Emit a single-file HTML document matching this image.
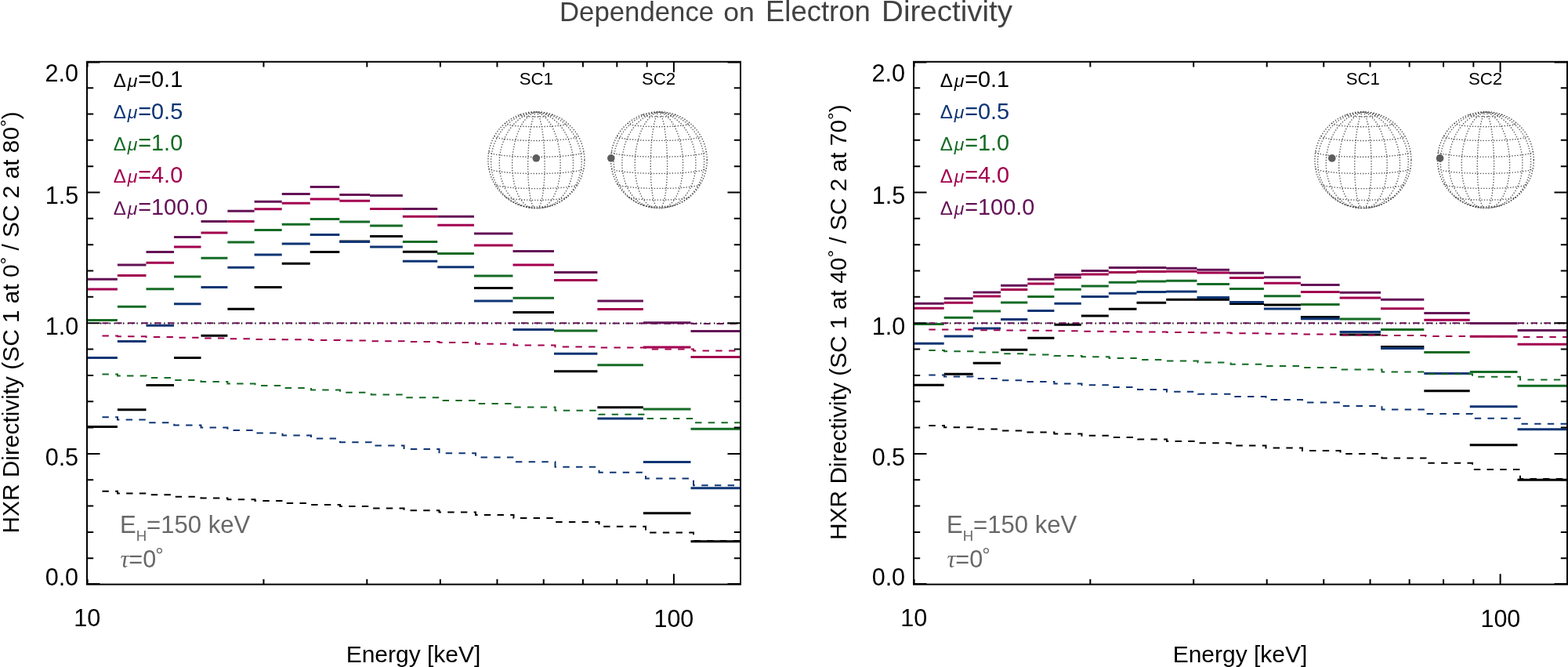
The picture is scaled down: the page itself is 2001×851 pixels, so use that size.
<!DOCTYPE html>
<html><head><meta charset="utf-8"><title>Dependence on Electron Directivity</title>
<style>
html,body{margin:0;padding:0;background:#fff;}
body{width:2001px;height:851px;overflow:hidden;}
svg{display:block;}
text{font-family:'Liberation Sans', Arial, sans-serif;}
.gr{fill:#686868;}
.title{fill:#414141;}
</style></head>
<body>
<svg width="2001" height="851" viewBox="0 0 2001 851">
<rect width="2001" height="851" fill="#fff"/>
<path d="M128 412.5H945" stroke="#000" stroke-width="2" stroke-dasharray="1.4 4.4" fill="none"/>
<path d="M111 544.5H149.9M149.9 522.7H186.5M186.5 491.6H222M222 456.5H256.5M256.5 428.3H290.4M290.4 394.2H324.6M324.6 366.4H359.7M359.7 336.2H395.7M395.7 321.4H433.3M433.3 308H472.1M472.1 301.4H513.9M513.9 321.3H558.3M558.3 323.4H605M605 367.5H654.5M654.5 398.4H707M707 473.7H762.4M762.4 519.8H820.9M820.9 654.7H881.5M881.5 690.7H945" stroke="#000000" stroke-width="3" fill="none"/>
<path d="M111 456.4H149.9M149.9 435.4H186.5M186.5 415.3H222M222 387.7H256.5M256.5 366.4H290.4M290.4 341.2H324.6M324.6 324.9H359.7M359.7 311.1H395.7M395.7 299.5H433.3M433.3 308.4H472.1M472.1 315.1H513.9M513.9 333.2H558.3M558.3 340.7H605M605 383.9H654.5M654.5 420.4H707M707 451.2H762.4M762.4 534.1H820.9M820.9 589.6H881.5M881.5 622.8H945" stroke="#0e3574" stroke-width="3" fill="none"/>
<path d="M111 408.5H149.9M149.9 391.3H186.5M186.5 368.7H222M222 353.1H256.5M256.5 329.2H290.4M290.4 308.9H324.6M324.6 293.5H359.7M359.7 286.3H395.7M395.7 279.4H433.3M433.3 283.1H472.1M472.1 288.1H513.9M513.9 308.6H558.3M558.3 323.4H605M605 352.1H654.5M654.5 380.3H707M707 421.9H762.4M762.4 465.7H820.9M820.9 521.9H881.5M881.5 547.2H945" stroke="#156b25" stroke-width="3" fill="none"/>
<path d="M111 368.9H149.9M149.9 351.5H186.5M186.5 335.2H222M222 315H256.5M256.5 296.9H290.4M290.4 282.5H324.6M324.6 266.7H359.7M359.7 259.2H395.7M395.7 254.1H433.3M433.3 256.2H472.1M472.1 266.6H513.9M513.9 276.2H558.3M558.3 287.2H605M605 313.1H654.5M654.5 337.9H707M707 357.5H762.4M762.4 394.5H820.9M820.9 443H881.5M881.5 455.6H945" stroke="#a2004f" stroke-width="3" fill="none"/>
<path d="M111 356.3H149.9M149.9 337.9H186.5M186.5 321.4H222M222 302.4H256.5M256.5 282.5H290.4M290.4 269.3H324.6M324.6 257.2H359.7M359.7 247.6H395.7M395.7 238.6H433.3M433.3 248.6H472.1M472.1 249.4H513.9M513.9 266.4H558.3M558.3 276.2H605M605 298H654.5M654.5 320.5H707M707 347.4H762.4M762.4 383.9H820.9M820.9 411.7H881.5M881.5 422.6H945" stroke="#641256" stroke-width="3" fill="none"/>
<path d="M130.45 626.8H150V629.5H186.5V631.3H222.3V633.7H256.5V635.6H290.4V637.2H325.5V639H360.5V642H397V644H434V646.1H473.7V648.5H515.6V651.2H560.5V653.6H607V657.1H655.5V661.1H708.5V665.9H764.5V671.8H824V679.6H885V690H945" stroke="#000000" stroke-width="2" stroke-dasharray="8.4 8.3" fill="none"/>
<path d="M130.45 532.3H150V535.5H186.5V539.3H222.3V542.5H256.5V545.5H290.4V548.9H325.5V552.4H360.5V555.6H397V559.5H434V564.2H473.7V568.4H515.6V573.1H560.5V578.3H607V583.6H655.5V589.3H708.5V595.7H764.5V602.8H824V610.5H885V619.2H945" stroke="#0e3574" stroke-width="2" stroke-dasharray="8.4 8.3" fill="none"/>
<path d="M130.45 477.6H150V479.4H186.5V482H222.3V485H256.5V486.9H290.4V489.6H325.5V492.1H360.5V494.9H397V497.4H434V500.8H473.7V503.6H515.6V507.2H560.5V511H607V515H655.5V519.5H708.5V523.8H764.5V528.8H824V533.9H885V539.3H945" stroke="#156b25" stroke-width="2" stroke-dasharray="8.4 8.3" fill="none"/>
<path d="M130.45 428.6H150V429.3H186.5V430H222.3V430.8H256.5V431.4H290.4V432.3H325.5V432.9H360.5V433.3H397V434H434V434.6H473.7V435.2H515.6V436H560.5V437H607V438.7H655.5V440.5H708.5V442.5H764.5V443.6H824V445.4H885V447.4H945" stroke="#a2004f" stroke-width="2" stroke-dasharray="8.4 8.3" fill="none"/>
<path d="M130.45 412.2H150V412.2H186.5V412.2H222.3V412.2H256.5V412.2H290.4V412.2H325.5V412.2H360.5V412.2H397V412.2H434V412.2H473.7V412.2H515.6V412.2H560.5V412.2H607V412.2H655.5V412.2H708.5V412.2H764.5V412.4H824V412.8H885V413H945" stroke="#641256" stroke-width="2" stroke-dasharray="8.4 8.3" fill="none"/>
<rect x="111" y="78.8" width="834" height="666.8" fill="none" stroke="#000" stroke-width="2"/>
<path d="M111 745h16.5M945 745h-16.5M111 712.26h8.2M945 712.26h-8.2M111 678.92h8.2M945 678.92h-8.2M111 645.58h8.2M945 645.58h-8.2M111 612.24h8.2M945 612.24h-8.2M111 578.9h16.5M945 578.9h-16.5M111 545.56h8.2M945 545.56h-8.2M111 512.22h8.2M945 512.22h-8.2M111 478.88h8.2M945 478.88h-8.2M111 445.54h8.2M945 445.54h-8.2M111 412.2h16.5M945 412.2h-16.5M111 378.86h8.2M945 378.86h-8.2M111 345.52h8.2M945 345.52h-8.2M111 312.18h8.2M945 312.18h-8.2M111 278.84h8.2M945 278.84h-8.2M111 245.5h16.5M945 245.5h-16.5M111 212.16h8.2M945 212.16h-8.2M111 178.82h8.2M945 178.82h-8.2M111 145.48h8.2M945 145.48h-8.2M111 112.14h8.2M945 112.14h-8.2M111 79.4h16.5M945 79.4h-16.5M111.6 745.6v-6.6M111.6 78.8v6.6M336.44 745.6v-6.6M336.44 78.8v6.6M468.32 745.6v-6.6M468.32 78.8v6.6M561.88 745.6v-6.6M561.88 78.8v6.6M634.46 745.6v-6.6M634.46 78.8v6.6M693.76 745.6v-6.6M693.76 78.8v6.6M743.89 745.6v-6.6M743.89 78.8v6.6M787.32 745.6v-6.6M787.32 78.8v6.6M825.63 745.6v-6.6M825.63 78.8v6.6M859.9 745.6v-13.4M859.9 78.8v13.4" stroke="#000" stroke-width="2" fill="none"/>
<path d="M1183 412.5H2000" stroke="#000" stroke-width="2" stroke-dasharray="1.4 4.4" fill="none"/>
<path d="M1166 491.3H1204.7M1204.7 477.3H1241.7M1241.7 463.3H1277.1M1277.1 446.3H1311.3M1311.3 431.3H1345.4M1345.4 414.2H1379.8M1379.8 403.1H1414.8M1414.8 394.3H1450.5M1450.5 386.3H1488.2M1488.2 382.2H1527.5M1527.5 382.2H1569M1569 387.6H1612.9M1612.9 389.1H1659.9M1659.9 404.5H1709.6M1709.6 426.9H1762M1762 442.4H1817.3M1817.3 498.8H1875.7M1875.7 567.7H1936.5M1936.5 612.2H2000" stroke="#000000" stroke-width="3" fill="none"/>
<path d="M1166 438.2H1204.7M1204.7 429H1241.7M1241.7 419H1277.1M1277.1 407.6H1311.3M1311.3 396.6H1345.4M1345.4 387.3H1379.8M1379.8 378.4H1414.8M1414.8 374.3H1450.5M1450.5 372.6H1488.2M1488.2 372H1527.5M1527.5 379.4H1569M1569 385.6H1612.9M1612.9 394.1H1659.9M1659.9 406.8H1709.6M1709.6 423.6H1762M1762 444.5H1817.3M1817.3 476.5H1875.7M1875.7 518.7H1936.5M1936.5 547.8H2000" stroke="#0e3574" stroke-width="3" fill="none"/>
<path d="M1166 413.6H1204.7M1204.7 405.3H1241.7M1241.7 396.9H1277.1M1277.1 386.1H1311.3M1311.3 378.4H1345.4M1345.4 369.2H1379.8M1379.8 364.9H1414.8M1414.8 360.3H1450.5M1450.5 359H1488.2M1488.2 358.3H1527.5M1527.5 362.4H1569M1569 368.4H1612.9M1612.9 377.7H1659.9M1659.9 388.4H1709.6M1709.6 407H1762M1762 420.6H1817.3M1817.3 449.5H1875.7M1875.7 474.6H1936.5M1936.5 492.3H2000" stroke="#156b25" stroke-width="3" fill="none"/>
<path d="M1166 393.3H1204.7M1204.7 386.3H1241.7M1241.7 378H1277.1M1277.1 369.6H1311.3M1311.3 362H1345.4M1345.4 354H1379.8M1379.8 349.9H1414.8M1414.8 347.5H1450.5M1450.5 346.6H1488.2M1488.2 346.3H1527.5M1527.5 348H1569M1569 354.4H1612.9M1612.9 361.2H1659.9M1659.9 372.5H1709.6M1709.6 380H1762M1762 393.8H1817.3M1817.3 408.3H1875.7M1875.7 429.2H1936.5M1936.5 439.3H2000" stroke="#a2004f" stroke-width="3" fill="none"/>
<path d="M1166 387.2H1204.7M1204.7 380.7H1241.7M1241.7 373.1H1277.1M1277.1 364.2H1311.3M1311.3 356.2H1345.4M1345.4 350.4H1379.8M1379.8 345.5H1414.8M1414.8 341.4H1450.5M1450.5 341.4H1488.2M1488.2 342.2H1527.5M1527.5 344.3H1569M1569 348.3H1612.9M1612.9 353.7H1659.9M1659.9 363.4H1709.6M1709.6 373.2H1762M1762 382.3H1817.3M1817.3 399.4H1875.7M1875.7 412.6H1936.5M1936.5 421.4H2000" stroke="#641256" stroke-width="3" fill="none"/>
<path d="M1185.35 543.1H1205V545.2H1241.5V547.5H1277.3V549.6H1311.5V551.4H1345.4V553.6H1380.5V555.8H1415.5V558.1H1452V560.6H1489V562.9H1528.7V565.3H1570.6V568.6H1615.5V571.4H1662V575.1H1710.5V579H1763.5V584.4H1819.5V590.8H1879V599.1H1940V611H2000" stroke="#000000" stroke-width="2" stroke-dasharray="8.4 8.3" fill="none"/>
<path d="M1185.35 478.6H1205V480.6H1241.5V483H1277.3V485.2H1311.5V487.1H1345.4V489.6H1380.5V491.3H1415.5V494.1H1452V497H1489V499.8H1528.7V502.7H1570.6V506.1H1615.5V509.9H1662V513.6H1710.5V517.9H1763.5V522.6H1819.5V528H1879V533.7H1940V540.8H2000" stroke="#0e3574" stroke-width="2" stroke-dasharray="8.4 8.3" fill="none"/>
<path d="M1185.35 446.9H1205V448.3H1241.5V449.6H1277.3V451.2H1311.5V452.5H1345.4V453.9H1380.5V455.2H1415.5V457.1H1452V459H1489V460.5H1528.7V462.4H1570.6V464.7H1615.5V467H1662V469.1H1710.5V471.6H1763.5V474.6H1819.5V477.3H1879V480.8H1940V484.4H2000" stroke="#156b25" stroke-width="2" stroke-dasharray="8.4 8.3" fill="none"/>
<path d="M1185.35 420.5H1205V420.6H1241.5V421.3H1277.3V421.6H1311.5V421.8H1345.4V422.3H1380.5V422.8H1415.5V423.3H1452V423.6H1489V424H1528.7V424.6H1570.6V425.3H1615.5V425.8H1662V426.6H1710.5V427.4H1763.5V428H1819.5V428.9H1879V429.3H1940V430.1H2000" stroke="#a2004f" stroke-width="2" stroke-dasharray="8.4 8.3" fill="none"/>
<path d="M1185.35 412.2H1205V412.2H1241.5V412.2H1277.3V412.2H1311.5V412.2H1345.4V412.2H1380.5V412.2H1415.5V412.2H1452V412.2H1489V412.2H1528.7V412.2H1570.6V412.2H1615.5V412.2H1662V412.2H1710.5V412.2H1763.5V412.2H1819.5V412.2H1879V412.2H1940V412.2H2000" stroke="#641256" stroke-width="2" stroke-dasharray="8.4 8.3" fill="none"/>
<rect x="1166" y="78.8" width="834" height="666.8" fill="none" stroke="#000" stroke-width="2"/>
<path d="M1166 745h16.5M2000 745h-16.5M1166 712.26h8.2M2000 712.26h-8.2M1166 678.92h8.2M2000 678.92h-8.2M1166 645.58h8.2M2000 645.58h-8.2M1166 612.24h8.2M2000 612.24h-8.2M1166 578.9h16.5M2000 578.9h-16.5M1166 545.56h8.2M2000 545.56h-8.2M1166 512.22h8.2M2000 512.22h-8.2M1166 478.88h8.2M2000 478.88h-8.2M1166 445.54h8.2M2000 445.54h-8.2M1166 412.2h16.5M2000 412.2h-16.5M1166 378.86h8.2M2000 378.86h-8.2M1166 345.52h8.2M2000 345.52h-8.2M1166 312.18h8.2M2000 312.18h-8.2M1166 278.84h8.2M2000 278.84h-8.2M1166 245.5h16.5M2000 245.5h-16.5M1166 212.16h8.2M2000 212.16h-8.2M1166 178.82h8.2M2000 178.82h-8.2M1166 145.48h8.2M2000 145.48h-8.2M1166 112.14h8.2M2000 112.14h-8.2M1166 79.4h16.5M2000 79.4h-16.5M1166.6 745.6v-6.6M1166.6 78.8v6.6M1391.35 745.6v-6.6M1391.35 78.8v6.6M1523.17 745.6v-6.6M1523.17 78.8v6.6M1616.7 745.6v-6.6M1616.7 78.8v6.6M1689.25 745.6v-6.6M1689.25 78.8v6.6M1748.52 745.6v-6.6M1748.52 78.8v6.6M1798.64 745.6v-6.6M1798.64 78.8v6.6M1842.05 745.6v-6.6M1842.05 78.8v6.6M1880.35 745.6v-6.6M1880.35 78.8v6.6M1914.6 745.6v-13.4M1914.6 78.8v13.4" stroke="#000" stroke-width="2" fill="none"/>
<path d="M664.4 262.3L664.6 262.3L664.9 262.4L665.2 262.5L665.5 262.6L665.8 262.6L666.2 262.7L666.6 262.8L667.0 262.8L667.4 262.9L667.8 263.0L668.3 263.0L668.8 263.1L669.3 263.2L669.8 263.2L670.3 263.3L670.9 263.3L671.5 263.4L672.0 263.4L672.6 263.5L673.3 263.5L673.9 263.6L674.5 263.6L675.2 263.6L675.8 263.7L676.5 263.7L677.2 263.7L677.9 263.8L678.6 263.8L679.3 263.8L680.0 263.8L680.7 263.8L681.5 263.9L682.2 263.9L682.9 263.9L683.7 263.9L684.4 263.9L685.1 263.9L685.9 263.9L686.6 263.9L687.3 263.9L688.1 263.8L688.8 263.8L689.5 263.8L690.2 263.8L690.9 263.8L691.6 263.7L692.3 263.7L693.0 263.7L693.6 263.6L694.3 263.6L694.9 263.6L695.5 263.5L696.2 263.5L696.8 263.4L697.3 263.4L697.9 263.3L698.5 263.3L699.0 263.2L699.5 263.2L700.0 263.1L700.5 263.0L701.0 263.0L701.4 262.9L701.8 262.8L702.2 262.8L702.6 262.7L703.0 262.6L703.3 262.6L703.6 262.5L703.9 262.4L704.2 262.3L704.4 262.3M645.3 251.5L645.5 251.7L645.7 251.8L646.0 252.0L646.4 252.1L646.8 252.3L647.3 252.4L647.7 252.6L648.3 252.7L648.9 252.8L649.5 253.0L650.2 253.1L650.9 253.3L651.6 253.4L652.4 253.5L653.2 253.6L654.1 253.8L655.0 253.9L656.0 254.0L656.9 254.1L657.9 254.2L659.0 254.3L660.1 254.4L661.2 254.5L662.3 254.6L663.5 254.7L664.6 254.7L665.8 254.8L667.1 254.9L668.3 254.9L669.6 255.0L670.9 255.1L672.2 255.1L673.5 255.2L674.8 255.2L676.2 255.2L677.5 255.3L678.9 255.3L680.3 255.3L681.6 255.3L683.0 255.3L684.4 255.3L685.8 255.3L687.2 255.3L688.5 255.3L689.9 255.3L691.3 255.3L692.6 255.2L694.0 255.2L695.3 255.2L696.6 255.1L697.9 255.1L699.2 255.0L700.5 254.9L701.7 254.9L703.0 254.8L704.2 254.7L705.3 254.7L706.5 254.6L707.6 254.5L708.7 254.4L709.8 254.3L710.9 254.2L711.9 254.1L712.8 254.0L713.8 253.9L714.7 253.8L715.6 253.6L716.4 253.5L717.2 253.4L717.9 253.3L718.6 253.1L719.3 253.0L719.9 252.8L720.5 252.7L721.1 252.6L721.5 252.4L722.0 252.3L722.4 252.1L722.8 252.0L723.1 251.8L723.3 251.7L723.5 251.5M631.3 235.1L631.4 235.3L631.7 235.5L631.9 235.7L632.3 235.9L632.7 236.1L633.2 236.3L633.7 236.5L634.4 236.7L635.0 236.9L635.7 237.1L636.5 237.3L637.4 237.4L638.3 237.6L639.2 237.8L640.2 238.0L641.3 238.1L642.4 238.3L643.6 238.5L644.8 238.6L646.1 238.8L647.4 238.9L648.8 239.1L650.2 239.2L651.6 239.3L653.1 239.5L654.6 239.6L656.2 239.7L657.8 239.8L659.4 239.9L661.1 240.0L662.7 240.1L664.4 240.2L666.2 240.2L667.9 240.3L669.7 240.4L671.5 240.4L673.3 240.5L675.2 240.5L677.0 240.5L678.8 240.6L680.7 240.6L682.5 240.6L684.4 240.6L686.3 240.6L688.1 240.6L690.0 240.6L691.8 240.5L693.6 240.5L695.5 240.5L697.3 240.4L699.1 240.4L700.9 240.3L702.6 240.2L704.4 240.2L706.1 240.1L707.7 240.0L709.4 239.9L711.0 239.8L712.6 239.7L714.2 239.6L715.7 239.5L717.2 239.3L718.6 239.2L720.0 239.1L721.4 238.9L722.7 238.8L724.0 238.6L725.2 238.5L726.4 238.3L727.5 238.1L728.6 238.0L729.6 237.8L730.5 237.6L731.4 237.4L732.3 237.3L733.1 237.1L733.8 236.9L734.4 236.7L735.1 236.5L735.6 236.3L736.1 236.1L736.5 235.9L736.9 235.7L737.1 235.5L737.4 235.3L737.5 235.1M623.9 214.9L624.0 215.2L624.2 215.4L624.4 215.7L624.8 215.9L625.2 216.1L625.6 216.3L626.2 216.6L626.8 216.8L627.5 217.0L628.2 217.2L629.1 217.5L630.0 217.7L630.9 217.9L631.9 218.1L633.0 218.3L634.2 218.5L635.4 218.7L636.7 218.9L638.0 219.1L639.4 219.2L640.8 219.4L642.3 219.6L643.9 219.7L645.5 219.9L647.1 220.0L648.8 220.2L650.5 220.3L652.3 220.4L654.1 220.6L656.0 220.7L657.8 220.8L659.8 220.9L661.7 221.0L663.7 221.1L665.7 221.1L667.7 221.2L669.7 221.3L671.8 221.3L673.9 221.4L676.0 221.4L678.1 221.4L680.2 221.4L682.3 221.5L684.4 221.5L686.5 221.5L688.6 221.4L690.7 221.4L692.8 221.4L694.9 221.4L697.0 221.3L699.1 221.3L701.1 221.2L703.1 221.1L705.1 221.1L707.1 221.0L709.0 220.9L711.0 220.8L712.8 220.7L714.7 220.6L716.5 220.4L718.3 220.3L720.0 220.2L721.7 220.0L723.3 219.9L724.9 219.7L726.5 219.6L728.0 219.4L729.4 219.2L730.8 219.1L732.1 218.9L733.4 218.7L734.6 218.5L735.8 218.3L736.9 218.1L737.9 217.9L738.8 217.7L739.7 217.5L740.6 217.2L741.3 217.0L742.0 216.8L742.6 216.6L743.2 216.3L743.6 216.1L744.0 215.9L744.4 215.7L744.6 215.4L744.8 215.2L744.9 214.9M623.8 193.5L623.9 193.7L624.0 194.0L624.2 194.2L624.4 194.4L624.8 194.7L625.2 194.9L625.6 195.1L626.2 195.3L626.8 195.6L627.5 195.8L628.2 196.0L629.1 196.2L630.0 196.4L630.9 196.7L631.9 196.9L633.0 197.1L634.2 197.3L635.4 197.5L636.7 197.6L638.0 197.8L639.4 198.0L640.8 198.2L642.3 198.3L643.9 198.5L645.5 198.7L647.1 198.8L648.8 198.9L650.5 199.1L652.3 199.2L654.1 199.3L656.0 199.4L657.8 199.6L659.8 199.7L661.7 199.7L663.7 199.8L665.7 199.9L667.7 200.0L669.7 200.0L671.8 200.1L673.9 200.1L676.0 200.2L678.1 200.2L680.2 200.2L682.3 200.2L684.4 200.2L686.5 200.2L688.6 200.2L690.7 200.2L692.8 200.2L694.9 200.1L697.0 200.1L699.1 200.0L701.1 200.0L703.1 199.9L705.1 199.8L707.1 199.7L709.0 199.7L711.0 199.6L712.8 199.4L714.7 199.3L716.5 199.2L718.3 199.1L720.0 198.9L721.7 198.8L723.3 198.7L724.9 198.5L726.5 198.3L728.0 198.2L729.4 198.0L730.8 197.8L732.1 197.6L733.4 197.5L734.6 197.3L735.8 197.1L736.9 196.9L737.9 196.7L738.8 196.4L739.7 196.2L740.6 196.0L741.3 195.8L742.0 195.6L742.6 195.3L743.2 195.1L743.6 194.9L744.0 194.7L744.4 194.4L744.6 194.2L744.8 194.0L744.9 193.7L745.0 193.5M631.2 173.3L631.1 173.5L631.2 173.7L631.3 174.0L631.4 174.2L631.7 174.4L631.9 174.6L632.3 174.8L632.7 175.0L633.2 175.2L633.7 175.4L634.4 175.6L635.0 175.8L635.7 176.0L636.5 176.1L637.4 176.3L638.3 176.5L639.2 176.7L640.2 176.9L641.3 177.0L642.4 177.2L643.6 177.4L644.8 177.5L646.1 177.7L647.4 177.8L648.8 178.0L650.2 178.1L651.6 178.2L653.1 178.3L654.6 178.5L656.2 178.6L657.8 178.7L659.4 178.8L661.1 178.9L662.7 179.0L664.4 179.0L666.2 179.1L667.9 179.2L669.7 179.2L671.5 179.3L673.3 179.3L675.2 179.4L677.0 179.4L678.8 179.4L680.7 179.5L682.5 179.5L684.4 179.5L686.3 179.5L688.1 179.5L690.0 179.4L691.8 179.4L693.6 179.4L695.5 179.3L697.3 179.3L699.1 179.2L700.9 179.2L702.6 179.1L704.4 179.0L706.1 179.0L707.7 178.9L709.4 178.8L711.0 178.7L712.6 178.6L714.2 178.5L715.7 178.3L717.2 178.2L718.6 178.1L720.0 178.0L721.4 177.8L722.7 177.7L724.0 177.5L725.2 177.4L726.4 177.2L727.5 177.0L728.6 176.9L729.6 176.7L730.5 176.5L731.4 176.3L732.3 176.1L733.1 176.0L733.8 175.8L734.4 175.6L735.1 175.4L735.6 175.2L736.1 175.0L736.5 174.8L736.9 174.6L737.1 174.4L737.4 174.2L737.5 174.0L737.6 173.7L737.7 173.5L737.6 173.3M645.1 156.8L645.0 157.0L644.9 157.1L644.9 157.3L644.9 157.4L645.0 157.6L645.1 157.7L645.3 157.9L645.5 158.0L645.7 158.2L646.0 158.3L646.4 158.5L646.8 158.6L647.3 158.8L647.7 158.9L648.3 159.1L648.9 159.2L649.5 159.4L650.2 159.5L650.9 159.6L651.6 159.7L652.4 159.9L653.2 160.0L654.1 160.1L655.0 160.2L656.0 160.3L656.9 160.5L657.9 160.6L659.0 160.7L660.1 160.8L661.2 160.8L662.3 160.9L663.5 161.0L664.6 161.1L665.8 161.2L667.1 161.2L668.3 161.3L669.6 161.4L670.9 161.4L672.2 161.5L673.5 161.5L674.8 161.6L676.2 161.6L677.5 161.6L678.9 161.6L680.3 161.7L681.6 161.7L683.0 161.7L684.4 161.7L685.8 161.7L687.2 161.7L688.5 161.7L689.9 161.6L691.3 161.6L692.6 161.6L694.0 161.6L695.3 161.5L696.6 161.5L697.9 161.4L699.2 161.4L700.5 161.3L701.7 161.2L703.0 161.2L704.2 161.1L705.3 161.0L706.5 160.9L707.6 160.8L708.7 160.8L709.8 160.7L710.9 160.6L711.9 160.5L712.8 160.3L713.8 160.2L714.7 160.1L715.6 160.0L716.4 159.9L717.2 159.7L717.9 159.6L718.6 159.5L719.3 159.4L719.9 159.2L720.5 159.1L721.1 158.9L721.5 158.8L722.0 158.6L722.4 158.5L722.8 158.3L723.1 158.2L723.3 158.0L723.5 157.9L723.7 157.7L723.8 157.6L723.9 157.4L723.9 157.3L723.9 157.1L723.8 157.0L723.7 156.8M664.2 146.0L664.0 146.1L663.8 146.2L663.7 146.3L663.6 146.3L663.5 146.4L663.4 146.5L663.4 146.6L663.4 146.7L663.4 146.8L663.4 146.8L663.5 146.9L663.6 147.0L663.7 147.1L663.8 147.2L664.0 147.2L664.2 147.3L664.4 147.4L664.6 147.5L664.9 147.5L665.2 147.6L665.5 147.7L665.8 147.8L666.2 147.8L666.6 147.9L667.0 148.0L667.4 148.0L667.8 148.1L668.3 148.2L668.8 148.2L669.3 148.3L669.8 148.4L670.3 148.4L670.9 148.5L671.5 148.5L672.0 148.6L672.6 148.6L673.3 148.7L673.9 148.7L674.5 148.7L675.2 148.8L675.8 148.8L676.5 148.8L677.2 148.9L677.9 148.9L678.6 148.9L679.3 148.9L680.0 149.0L680.7 149.0L681.5 149.0L682.2 149.0L682.9 149.0L683.7 149.0L684.4 149.0L685.1 149.0L685.9 149.0L686.6 149.0L687.3 149.0L688.1 149.0L688.8 149.0L689.5 148.9L690.2 148.9L690.9 148.9L691.6 148.9L692.3 148.8L693.0 148.8L693.6 148.8L694.3 148.7L694.9 148.7L695.5 148.7L696.2 148.6L696.8 148.6L697.3 148.5L697.9 148.5L698.5 148.4L699.0 148.4L699.5 148.3L700.0 148.2L700.5 148.2L701.0 148.1L701.4 148.0L701.8 148.0L702.2 147.9L702.6 147.8L703.0 147.8L703.3 147.7L703.6 147.6L703.9 147.5L704.2 147.5L704.4 147.4L704.6 147.3L704.8 147.2L705.0 147.2L705.1 147.1L705.2 147.0L705.3 146.9L705.4 146.8L705.4 146.8L705.4 146.7L705.4 146.6L705.4 146.5L705.3 146.4L705.2 146.3L705.1 146.3L705.0 146.2L704.8 146.1L704.6 146.0M664.6 262.3L662.8 261.6L660.9 260.9L659.1 260.1L657.3 259.2L655.5 258.2L653.8 257.2L652.1 256.1L650.4 254.9L648.8 253.7L647.3 252.4L645.7 251.1L644.3 249.7L642.8 248.2L641.5 246.7L640.1 245.2L638.9 243.6L637.6 241.9L636.5 240.2L635.4 238.5L634.4 236.7L633.4 234.9L632.5 233.0L631.6 231.1L630.8 229.2L630.1 227.2L629.4 225.2L628.8 223.2L628.3 221.2L627.9 219.1L627.5 217.0L627.2 214.9L626.9 212.8L626.7 210.7L626.6 208.6L626.6 206.4L626.6 204.3L626.7 202.2L626.9 200.0L627.2 197.9L627.5 195.8L627.9 193.7L628.3 191.6L628.8 189.5L629.4 187.4L630.1 185.4L630.8 183.4L631.6 181.4L632.5 179.4L633.4 177.5L634.4 175.6L635.4 173.7L636.5 171.9L637.6 170.1L638.9 168.3L640.1 166.6L641.5 164.9L642.8 163.3L644.3 161.8L645.7 160.3L647.3 158.8L648.8 157.4L650.4 156.0L652.1 154.7L653.8 153.5L655.5 152.3L657.3 151.2L659.1 150.2L660.9 149.2L662.8 148.3L664.6 147.5L666.5 146.7L668.5 146.0L670.4 145.4L672.4 144.8L674.4 144.3L676.4 143.9L678.4 143.6L680.4 143.3L682.4 143.1L684.4 143.0M676.2 265.1L674.6 264.8L673.0 264.5L671.4 264.1L669.8 263.6L668.3 263.0L666.8 262.4L665.2 261.7L663.7 261.0L662.3 260.1L660.8 259.2L659.4 258.3L658.1 257.2L656.7 256.1L655.4 255.0L654.1 253.8L652.9 252.5L651.7 251.1L650.5 249.7L649.4 248.3L648.3 246.8L647.3 245.2L646.3 243.6L645.3 241.9L644.4 240.2L643.6 238.5L642.8 236.7L642.1 234.9L641.4 233.0L640.7 231.1L640.1 229.1L639.6 227.2L639.1 225.2L638.7 223.2L638.3 221.1L638.0 219.1L637.7 217.0L637.5 214.9L637.4 212.8L637.3 210.6L637.3 208.5L637.3 206.4L637.4 204.2L637.5 202.1L637.7 200.0L638.0 197.8L638.3 195.7L638.7 193.6L639.1 191.5L639.6 189.4L640.1 187.3L640.7 185.3L641.4 183.3L642.1 181.3L642.8 179.3L643.6 177.4L644.4 175.5L645.3 173.6L646.3 171.7L647.3 169.9L648.3 168.2L649.4 166.5L650.5 164.8L651.7 163.2L652.9 161.6L654.1 160.1L655.4 158.7L656.7 157.2L658.1 155.9L659.4 154.6L660.8 153.4L662.3 152.2L663.7 151.1L665.2 150.1L666.8 149.1L668.3 148.2L669.8 147.3L671.4 146.6L673.0 145.9L674.6 145.2L676.2 144.7L677.8 144.2L679.5 143.8L681.1 143.4L682.8 143.2L684.4 143.0M680.1 265.4L679.1 265.3L678.0 265.1L677.0 264.8L675.9 264.5L674.9 264.1L673.9 263.6L672.9 263.0L671.9 262.3L670.9 261.6L670.0 260.9L669.0 260.0L668.1 259.1L667.2 258.1L666.3 257.0L665.5 255.9L664.6 254.7L663.8 253.5L663.0 252.2L662.3 250.8L661.5 249.4L660.8 247.9L660.2 246.4L659.5 244.8L658.9 243.2L658.3 241.5L657.8 239.8L657.2 238.0L656.8 236.2L656.3 234.4L655.9 232.5L655.5 230.6L655.2 228.6L654.8 226.7L654.6 224.6L654.3 222.6L654.1 220.6L653.9 218.5L653.8 216.4L653.7 214.3L653.7 212.2L653.6 210.0L653.7 207.9L653.7 205.8L653.8 203.6L653.9 201.5L654.1 199.3L654.3 197.2L654.6 195.1L654.8 193.0L655.2 190.9L655.5 188.8L655.9 186.7L656.3 184.7L656.8 182.6L657.2 180.6L657.8 178.7L658.3 176.7L658.9 174.8L659.5 173.0L660.2 171.2L660.8 169.4L661.5 167.6L662.3 165.9L663.0 164.3L663.8 162.7L664.6 161.1L665.5 159.6L666.3 158.1L667.2 156.8L668.1 155.4L669.0 154.1L670.0 152.9L670.9 151.8L671.9 150.7L672.9 149.7L673.9 148.7L674.9 147.8L675.9 147.0L677.0 146.2L678.0 145.6L679.1 144.9L680.1 144.4L681.2 143.9L682.3 143.5L683.3 143.2L684.4 143.0M682.9 265.6L682.5 265.5L682.2 265.3L681.8 265.0L681.5 264.7L681.1 264.3L680.7 263.8L680.4 263.3L680.1 262.7L679.7 262.0L679.4 261.2L679.1 260.4L678.7 259.5L678.4 258.5L678.1 257.5L677.8 256.4L677.5 255.3L677.3 254.0L677.0 252.8L676.7 251.4L676.5 250.0L676.2 248.6L676.0 247.0L675.8 245.5L675.5 243.9L675.3 242.2L675.2 240.5L675.0 238.8L674.8 237.0L674.6 235.1L674.5 233.3L674.4 231.3L674.2 229.4L674.1 227.4L674.0 225.4L674.0 223.4L673.9 221.4L673.8 219.3L673.8 217.2L673.7 215.1L673.7 213.0L673.7 210.9L673.7 208.7L673.7 206.6L673.8 204.4L673.8 202.3L673.9 200.1L674.0 198.0L674.0 195.9L674.1 193.7L674.2 191.6L674.4 189.5L674.5 187.5L674.6 185.4L674.8 183.4L675.0 181.4L675.2 179.4L675.3 177.4L675.5 175.5L675.8 173.6L676.0 171.8L676.2 170.0L676.5 168.2L676.7 166.5L677.0 164.8L677.3 163.2L677.5 161.6L677.8 160.1L678.1 158.6L678.4 157.2L678.7 155.8L679.1 154.5L679.4 153.3L679.7 152.1L680.1 151.0L680.4 150.0L680.7 149.0L681.1 148.1L681.5 147.2L681.8 146.4L682.2 145.7L682.5 145.1L682.9 144.5L683.3 144.0L683.7 143.6L684.0 143.3L684.4 143.0M685.9 265.6L686.3 265.5L686.6 265.3L687.0 265.0L687.3 264.7L687.7 264.3L688.1 263.8L688.4 263.3L688.7 262.7L689.1 262.0L689.4 261.2L689.7 260.4L690.1 259.5L690.4 258.5L690.7 257.5L691.0 256.4L691.3 255.3L691.5 254.0L691.8 252.8L692.1 251.4L692.3 250.0L692.6 248.6L692.8 247.0L693.0 245.5L693.3 243.9L693.5 242.2L693.6 240.5L693.8 238.8L694.0 237.0L694.2 235.1L694.3 233.3L694.4 231.3L694.6 229.4L694.7 227.4L694.8 225.4L694.8 223.4L694.9 221.4L695.0 219.3L695.0 217.2L695.1 215.1L695.1 213.0L695.1 210.9L695.1 208.7L695.1 206.6L695.0 204.4L695.0 202.3L694.9 200.1L694.8 198.0L694.8 195.9L694.7 193.7L694.6 191.6L694.4 189.5L694.3 187.5L694.2 185.4L694.0 183.4L693.8 181.4L693.6 179.4L693.5 177.4L693.3 175.5L693.0 173.6L692.8 171.8L692.6 170.0L692.3 168.2L692.1 166.5L691.8 164.8L691.5 163.2L691.3 161.6L691.0 160.1L690.7 158.6L690.4 157.2L690.1 155.8L689.7 154.5L689.4 153.3L689.1 152.1L688.7 151.0L688.4 150.0L688.1 149.0L687.7 148.1L687.3 147.2L687.0 146.4L686.6 145.7L686.3 145.1L685.9 144.5L685.5 144.0L685.1 143.6L684.8 143.3L684.4 143.0M688.7 265.4L689.7 265.3L690.8 265.1L691.8 264.8L692.9 264.5L693.9 264.1L694.9 263.6L695.9 263.0L696.9 262.3L697.9 261.6L698.8 260.9L699.8 260.0L700.7 259.1L701.6 258.1L702.5 257.0L703.3 255.9L704.2 254.7L705.0 253.5L705.8 252.2L706.5 250.8L707.3 249.4L708.0 247.9L708.6 246.4L709.3 244.8L709.9 243.2L710.5 241.5L711.0 239.8L711.6 238.0L712.0 236.2L712.5 234.4L712.9 232.5L713.3 230.6L713.6 228.6L714.0 226.7L714.2 224.6L714.5 222.6L714.7 220.6L714.9 218.5L715.0 216.4L715.1 214.3L715.1 212.2L715.1 210.0L715.1 207.9L715.1 205.8L715.0 203.6L714.9 201.5L714.7 199.3L714.5 197.2L714.2 195.1L714.0 193.0L713.6 190.9L713.3 188.8L712.9 186.7L712.5 184.7L712.0 182.6L711.6 180.6L711.0 178.7L710.5 176.7L709.9 174.8L709.3 173.0L708.6 171.2L708.0 169.4L707.3 167.6L706.5 165.9L705.8 164.3L705.0 162.7L704.2 161.1L703.3 159.6L702.5 158.1L701.6 156.8L700.7 155.4L699.8 154.1L698.8 152.9L697.9 151.8L696.9 150.7L695.9 149.7L694.9 148.7L693.9 147.8L692.9 147.0L691.8 146.2L690.8 145.6L689.7 144.9L688.7 144.4L687.6 143.9L686.5 143.5L685.5 143.2L684.4 143.0M692.6 265.1L694.2 264.8L695.8 264.5L697.4 264.1L699.0 263.6L700.5 263.0L702.0 262.4L703.6 261.7L705.1 261.0L706.5 260.1L708.0 259.2L709.4 258.3L710.7 257.2L712.1 256.1L713.4 255.0L714.7 253.8L715.9 252.5L717.1 251.1L718.3 249.7L719.4 248.3L720.5 246.8L721.5 245.2L722.5 243.6L723.5 241.9L724.4 240.2L725.2 238.5L726.0 236.7L726.7 234.9L727.4 233.0L728.1 231.1L728.7 229.1L729.2 227.2L729.7 225.2L730.1 223.2L730.5 221.1L730.8 219.1L731.1 217.0L731.3 214.9L731.4 212.8L731.5 210.6L731.5 208.5L731.5 206.4L731.4 204.2L731.3 202.1L731.1 200.0L730.8 197.8L730.5 195.7L730.1 193.6L729.7 191.5L729.2 189.4L728.7 187.3L728.1 185.3L727.4 183.3L726.7 181.3L726.0 179.3L725.2 177.4L724.4 175.5L723.5 173.6L722.5 171.7L721.5 169.9L720.5 168.2L719.4 166.5L718.3 164.8L717.1 163.2L715.9 161.6L714.7 160.1L713.4 158.7L712.1 157.2L710.7 155.9L709.4 154.6L708.0 153.4L706.5 152.2L705.1 151.1L703.6 150.1L702.0 149.1L700.5 148.2L699.0 147.3L697.4 146.6L695.8 145.9L694.2 145.2L692.6 144.7L691.0 144.2L689.3 143.8L687.7 143.4L686.0 143.2L684.4 143.0M704.2 262.3L706.0 261.6L707.9 260.9L709.7 260.1L711.5 259.2L713.3 258.2L715.0 257.2L716.7 256.1L718.4 254.9L720.0 253.7L721.5 252.4L723.1 251.1L724.5 249.7L726.0 248.2L727.3 246.7L728.7 245.2L729.9 243.6L731.2 241.9L732.3 240.2L733.4 238.5L734.4 236.7L735.4 234.9L736.3 233.0L737.2 231.1L738.0 229.2L738.7 227.2L739.4 225.2L740.0 223.2L740.5 221.2L740.9 219.1L741.3 217.0L741.6 214.9L741.9 212.8L742.1 210.7L742.2 208.6L742.2 206.4L742.2 204.3L742.1 202.2L741.9 200.0L741.6 197.9L741.3 195.8L740.9 193.7L740.5 191.6L740.0 189.5L739.4 187.4L738.7 185.4L738.0 183.4L737.2 181.4L736.3 179.4L735.4 177.5L734.4 175.6L733.4 173.7L732.3 171.9L731.2 170.1L729.9 168.3L728.7 166.6L727.3 164.9L726.0 163.3L724.5 161.8L723.1 160.3L721.5 158.8L720.0 157.4L718.4 156.0L716.7 154.7L715.0 153.5L713.3 152.3L711.5 151.2L709.7 150.2L707.9 149.2L706.0 148.3L704.2 147.5L702.3 146.7L700.3 146.0L698.4 145.4L696.4 144.8L694.4 144.3L692.4 143.9L690.4 143.6L688.4 143.3L686.4 143.1L684.4 143.0" stroke="#505050" stroke-width="1.35" stroke-dasharray="1.35 2.05" fill="none"/>
<circle cx="684.4" cy="204.1" r="61.5" stroke="#404040" stroke-width="1.35" stroke-dasharray="1.35 2.05" fill="none"/>
<circle cx="684.3" cy="201.8" r="4.8" fill="#5c5c5c"/>
<path d="M820.9 262.1L821.2 262.1L821.4 262.2L821.7 262.3L822.0 262.4L822.4 262.4L822.7 262.5L823.1 262.6L823.5 262.6L823.9 262.7L824.4 262.8L824.8 262.8L825.3 262.9L825.8 263.0L826.3 263.0L826.8 263.1L827.4 263.1L828.0 263.2L828.6 263.2L829.2 263.3L829.8 263.3L830.4 263.4L831.0 263.4L831.7 263.4L832.4 263.5L833.0 263.5L833.7 263.5L834.4 263.6L835.1 263.6L835.8 263.6L836.5 263.6L837.3 263.6L838.0 263.7L838.7 263.7L839.4 263.7L840.2 263.7L840.9 263.7L841.6 263.7L842.4 263.7L843.1 263.7L843.8 263.7L844.5 263.6L845.3 263.6L846.0 263.6L846.7 263.6L847.4 263.6L848.1 263.5L848.8 263.5L849.4 263.5L850.1 263.4L850.8 263.4L851.4 263.4L852.0 263.3L852.6 263.3L853.2 263.2L853.8 263.2L854.4 263.1L855.0 263.1L855.5 263.0L856.0 263.0L856.5 262.9L857.0 262.8L857.4 262.8L857.9 262.7L858.3 262.6L858.7 262.6L859.1 262.5L859.4 262.4L859.8 262.4L860.1 262.3L860.4 262.2L860.6 262.1L860.9 262.1M801.8 251.4L802.0 251.5L802.3 251.7L802.6 251.8L803.0 252.0L803.4 252.1L803.8 252.2L804.3 252.4L804.8 252.5L805.4 252.7L806.1 252.8L806.7 252.9L807.4 253.1L808.2 253.2L809.0 253.3L809.8 253.5L810.7 253.6L811.6 253.7L812.5 253.8L813.5 253.9L814.5 254.0L815.5 254.1L816.6 254.2L817.7 254.3L818.8 254.4L820.0 254.5L821.2 254.6L822.4 254.6L823.6 254.7L824.8 254.8L826.1 254.8L827.4 254.9L828.7 254.9L830.0 255.0L831.4 255.0L832.7 255.0L834.0 255.1L835.4 255.1L836.8 255.1L838.1 255.1L839.5 255.1L840.9 255.1L842.3 255.1L843.7 255.1L845.0 255.1L846.4 255.1L847.8 255.1L849.1 255.0L850.4 255.0L851.8 255.0L853.1 254.9L854.4 254.9L855.7 254.8L857.0 254.8L858.2 254.7L859.4 254.6L860.6 254.6L861.8 254.5L863.0 254.4L864.1 254.3L865.2 254.2L866.3 254.1L867.3 254.0L868.3 253.9L869.3 253.8L870.2 253.7L871.1 253.6L872.0 253.5L872.8 253.3L873.6 253.2L874.4 253.1L875.1 252.9L875.7 252.8L876.4 252.7L877.0 252.5L877.5 252.4L878.0 252.2L878.4 252.1L878.8 252.0L879.2 251.8L879.5 251.7L879.8 251.5L880.0 251.4M787.9 234.9L788.0 235.1L788.2 235.3L788.5 235.5L788.9 235.7L789.3 235.9L789.8 236.1L790.3 236.3L790.9 236.5L791.6 236.7L792.3 236.9L793.1 237.1L794.0 237.3L794.9 237.5L795.8 237.6L796.8 237.8L797.9 238.0L799.0 238.2L800.2 238.3L801.4 238.5L802.6 238.6L804.0 238.8L805.3 238.9L806.7 239.0L808.2 239.2L809.6 239.3L811.2 239.4L812.7 239.5L814.3 239.6L815.9 239.7L817.6 239.8L819.3 239.9L821.0 240.0L822.7 240.1L824.5 240.1L826.2 240.2L828.0 240.3L829.8 240.3L831.7 240.3L833.5 240.4L835.3 240.4L837.2 240.4L839.0 240.4L840.9 240.4L842.8 240.4L844.6 240.4L846.5 240.4L848.3 240.4L850.1 240.3L852.0 240.3L853.8 240.3L855.6 240.2L857.3 240.1L859.1 240.1L860.8 240.0L862.5 239.9L864.2 239.8L865.9 239.7L867.5 239.6L869.1 239.5L870.6 239.4L872.2 239.3L873.6 239.2L875.1 239.0L876.5 238.9L877.8 238.8L879.2 238.6L880.4 238.5L881.6 238.3L882.8 238.2L883.9 238.0L885.0 237.8L886.0 237.6L886.9 237.5L887.8 237.3L888.7 237.1L889.5 236.9L890.2 236.7L890.9 236.5L891.5 236.3L892.0 236.1L892.5 235.9L892.9 235.7L893.3 235.5L893.6 235.3L893.8 235.1L893.9 234.9M780.5 214.8L780.6 215.1L780.8 215.3L781.0 215.5L781.4 215.8L781.8 216.0L782.2 216.2L782.8 216.5L783.4 216.7L784.1 216.9L784.8 217.1L785.7 217.3L786.6 217.6L787.5 217.8L788.5 218.0L789.6 218.2L790.8 218.4L792.0 218.6L793.3 218.7L794.6 218.9L796.0 219.1L797.4 219.3L798.9 219.4L800.4 219.6L802.0 219.8L803.7 219.9L805.4 220.0L807.1 220.2L808.9 220.3L810.7 220.4L812.5 220.5L814.4 220.7L816.3 220.8L818.2 220.8L820.2 220.9L822.2 221.0L824.2 221.1L826.3 221.1L828.3 221.2L830.4 221.2L832.5 221.3L834.6 221.3L836.7 221.3L838.8 221.3L840.9 221.3L843.0 221.3L845.1 221.3L847.2 221.3L849.3 221.3L851.4 221.2L853.5 221.2L855.5 221.1L857.6 221.1L859.6 221.0L861.6 220.9L863.6 220.8L865.5 220.8L867.4 220.7L869.3 220.5L871.1 220.4L872.9 220.3L874.7 220.2L876.4 220.0L878.1 219.9L879.8 219.8L881.4 219.6L882.9 219.4L884.4 219.3L885.8 219.1L887.2 218.9L888.5 218.7L889.8 218.6L891.0 218.4L892.2 218.2L893.3 218.0L894.3 217.8L895.2 217.6L896.1 217.3L897.0 217.1L897.7 216.9L898.4 216.7L899.0 216.5L899.6 216.2L900.0 216.0L900.4 215.8L900.8 215.5L901.0 215.3L901.2 215.1L901.3 214.8M780.4 193.4L780.5 193.6L780.6 193.9L780.8 194.1L781.0 194.3L781.4 194.6L781.8 194.8L782.2 195.0L782.8 195.3L783.4 195.5L784.1 195.7L784.8 195.9L785.7 196.1L786.6 196.4L787.5 196.6L788.5 196.8L789.6 197.0L790.8 197.2L792.0 197.4L793.3 197.6L794.6 197.7L796.0 197.9L797.4 198.1L798.9 198.3L800.4 198.4L802.0 198.6L803.7 198.7L805.4 198.9L807.1 199.0L808.9 199.1L810.7 199.2L812.5 199.4L814.4 199.5L816.3 199.6L818.2 199.7L820.2 199.7L822.2 199.8L824.2 199.9L826.3 199.9L828.3 200.0L830.4 200.0L832.5 200.1L834.6 200.1L836.7 200.1L838.8 200.1L840.9 200.1L843.0 200.1L845.1 200.1L847.2 200.1L849.3 200.1L851.4 200.0L853.5 200.0L855.5 199.9L857.6 199.9L859.6 199.8L861.6 199.7L863.6 199.7L865.5 199.6L867.4 199.5L869.3 199.4L871.1 199.2L872.9 199.1L874.7 199.0L876.4 198.9L878.1 198.7L879.8 198.6L881.4 198.4L882.9 198.3L884.4 198.1L885.8 197.9L887.2 197.7L888.5 197.6L889.8 197.4L891.0 197.2L892.2 197.0L893.3 196.8L894.3 196.6L895.2 196.4L896.1 196.1L897.0 195.9L897.7 195.7L898.4 195.5L899.0 195.3L899.6 195.0L900.0 194.8L900.4 194.6L900.8 194.3L901.0 194.1L901.2 193.9L901.3 193.6L901.4 193.4M787.8 173.3L787.7 173.5L787.8 173.7L787.9 173.9L788.0 174.1L788.2 174.3L788.5 174.5L788.9 174.7L789.3 174.9L789.8 175.1L790.3 175.3L790.9 175.5L791.6 175.7L792.3 175.9L793.1 176.1L794.0 176.3L794.9 176.5L795.8 176.6L796.8 176.8L797.9 177.0L799.0 177.1L800.2 177.3L801.4 177.5L802.6 177.6L804.0 177.8L805.3 177.9L806.7 178.0L808.2 178.2L809.6 178.3L811.2 178.4L812.7 178.5L814.3 178.6L815.9 178.7L817.6 178.8L819.3 178.9L821.0 179.0L822.7 179.1L824.5 179.1L826.2 179.2L828.0 179.2L829.8 179.3L831.7 179.3L833.5 179.4L835.3 179.4L837.2 179.4L839.0 179.4L840.9 179.4L842.8 179.4L844.6 179.4L846.5 179.4L848.3 179.4L850.1 179.3L852.0 179.3L853.8 179.2L855.6 179.2L857.3 179.1L859.1 179.1L860.8 179.0L862.5 178.9L864.2 178.8L865.9 178.7L867.5 178.6L869.1 178.5L870.6 178.4L872.2 178.3L873.6 178.2L875.1 178.0L876.5 177.9L877.8 177.8L879.2 177.6L880.4 177.5L881.6 177.3L882.8 177.1L883.9 177.0L885.0 176.8L886.0 176.6L886.9 176.5L887.8 176.3L888.7 176.1L889.5 175.9L890.2 175.7L890.9 175.5L891.5 175.3L892.0 175.1L892.5 174.9L892.9 174.7L893.3 174.5L893.6 174.3L893.8 174.1L893.9 173.9L894.0 173.7L894.1 173.5L894.0 173.3M801.6 156.8L801.5 157.0L801.5 157.1L801.4 157.3L801.5 157.4L801.5 157.6L801.6 157.7L801.8 157.9L802.0 158.0L802.3 158.2L802.6 158.3L803.0 158.5L803.4 158.6L803.8 158.8L804.3 158.9L804.8 159.0L805.4 159.2L806.1 159.3L806.7 159.5L807.4 159.6L808.2 159.7L809.0 159.8L809.8 160.0L810.7 160.1L811.6 160.2L812.5 160.3L813.5 160.4L814.5 160.5L815.5 160.6L816.6 160.7L817.7 160.8L818.8 160.9L820.0 161.0L821.2 161.1L822.4 161.1L823.6 161.2L824.8 161.3L826.1 161.3L827.4 161.4L828.7 161.4L830.0 161.5L831.4 161.5L832.7 161.6L834.0 161.6L835.4 161.6L836.8 161.6L838.1 161.6L839.5 161.7L840.9 161.7L842.3 161.7L843.7 161.6L845.0 161.6L846.4 161.6L847.8 161.6L849.1 161.6L850.4 161.5L851.8 161.5L853.1 161.4L854.4 161.4L855.7 161.3L857.0 161.3L858.2 161.2L859.4 161.1L860.6 161.1L861.8 161.0L863.0 160.9L864.1 160.8L865.2 160.7L866.3 160.6L867.3 160.5L868.3 160.4L869.3 160.3L870.2 160.2L871.1 160.1L872.0 160.0L872.8 159.8L873.6 159.7L874.4 159.6L875.1 159.5L875.7 159.3L876.4 159.2L877.0 159.0L877.5 158.9L878.0 158.8L878.4 158.6L878.8 158.5L879.2 158.3L879.5 158.2L879.8 158.0L880.0 157.9L880.2 157.7L880.3 157.6L880.3 157.4L880.4 157.3L880.3 157.1L880.3 157.0L880.2 156.8M820.7 146.0L820.5 146.1L820.4 146.2L820.2 146.3L820.1 146.3L820.0 146.4L820.0 146.5L819.9 146.6L819.9 146.7L819.9 146.7L820.0 146.8L820.0 146.9L820.1 147.0L820.2 147.1L820.4 147.1L820.5 147.2L820.7 147.3L820.9 147.4L821.2 147.5L821.4 147.5L821.7 147.6L822.0 147.7L822.4 147.8L822.7 147.8L823.1 147.9L823.5 148.0L823.9 148.0L824.4 148.1L824.8 148.2L825.3 148.2L825.8 148.3L826.3 148.3L826.8 148.4L827.4 148.5L828.0 148.5L828.6 148.6L829.2 148.6L829.8 148.6L830.4 148.7L831.0 148.7L831.7 148.8L832.4 148.8L833.0 148.8L833.7 148.9L834.4 148.9L835.1 148.9L835.8 148.9L836.5 149.0L837.3 149.0L838.0 149.0L838.7 149.0L839.4 149.0L840.2 149.0L840.9 149.0L841.6 149.0L842.4 149.0L843.1 149.0L843.8 149.0L844.5 149.0L845.3 149.0L846.0 148.9L846.7 148.9L847.4 148.9L848.1 148.9L848.8 148.8L849.4 148.8L850.1 148.8L850.8 148.7L851.4 148.7L852.0 148.6L852.6 148.6L853.2 148.6L853.8 148.5L854.4 148.5L855.0 148.4L855.5 148.3L856.0 148.3L856.5 148.2L857.0 148.2L857.4 148.1L857.9 148.0L858.3 148.0L858.7 147.9L859.1 147.8L859.4 147.8L859.8 147.7L860.1 147.6L860.4 147.5L860.6 147.5L860.9 147.4L861.1 147.3L861.3 147.2L861.4 147.1L861.6 147.1L861.7 147.0L861.8 146.9L861.8 146.8L861.9 146.7L861.9 146.7L861.9 146.6L861.8 146.5L861.8 146.4L861.7 146.3L861.6 146.3L861.4 146.2L861.3 146.1L861.1 146.0M821.2 262.1L819.3 261.5L817.4 260.7L815.6 259.9L813.8 259.0L812.1 258.0L810.3 257.0L808.6 255.9L807.0 254.7L805.4 253.5L803.8 252.2L802.3 250.9L800.8 249.5L799.4 248.1L798.0 246.6L796.7 245.0L795.4 243.4L794.2 241.8L793.1 240.1L792.0 238.3L790.9 236.5L790.0 234.7L789.0 232.9L788.2 231.0L787.4 229.0L786.7 227.1L786.0 225.1L785.4 223.1L784.9 221.0L784.5 219.0L784.1 216.9L783.8 214.8L783.5 212.7L783.3 210.6L783.2 208.5L783.2 206.3L783.2 204.2L783.3 202.1L783.5 199.9L783.8 197.8L784.1 195.7L784.5 193.6L784.9 191.5L785.4 189.4L786.0 187.4L786.7 185.3L787.4 183.3L788.2 181.3L789.0 179.4L790.0 177.4L790.9 175.5L792.0 173.7L793.1 171.8L794.2 170.0L795.4 168.3L796.7 166.6L798.0 164.9L799.4 163.3L800.8 161.7L802.3 160.2L803.8 158.8L805.4 157.4L807.0 156.0L808.6 154.7L810.3 153.5L812.1 152.3L813.8 151.2L815.6 150.2L817.4 149.2L819.3 148.3L821.2 147.5L823.1 146.7L825.0 146.0L826.9 145.4L828.9 144.8L830.9 144.3L832.9 143.9L834.9 143.6L836.9 143.3L838.9 143.1L840.9 143.0M832.7 264.9L831.1 264.6L829.5 264.3L827.9 263.9L826.4 263.4L824.8 262.8L823.3 262.2L821.8 261.5L820.3 260.8L818.8 259.9L817.4 259.0L816.0 258.1L814.6 257.0L813.3 255.9L811.9 254.8L810.7 253.6L809.4 252.3L808.2 250.9L807.1 249.6L805.9 248.1L804.9 246.6L803.8 245.0L802.8 243.4L801.9 241.8L801.0 240.1L800.2 238.3L799.4 236.5L798.6 234.7L797.9 232.8L797.3 230.9L796.7 229.0L796.2 227.0L795.7 225.0L795.3 223.0L794.9 221.0L794.6 218.9L794.3 216.8L794.1 214.8L794.0 212.6L793.9 210.5L793.9 208.4L793.9 206.3L794.0 204.1L794.1 202.0L794.3 199.9L794.6 197.7L794.9 195.6L795.3 193.5L795.7 191.4L796.2 189.3L796.7 187.3L797.3 185.2L797.9 183.2L798.6 181.2L799.4 179.2L800.2 177.3L801.0 175.4L801.9 173.5L802.8 171.7L803.8 169.9L804.9 168.1L805.9 166.4L807.1 164.8L808.2 163.2L809.4 161.6L810.7 160.1L811.9 158.6L813.3 157.2L814.6 155.9L816.0 154.6L817.4 153.4L818.8 152.2L820.3 151.1L821.8 150.0L823.3 149.1L824.8 148.2L826.4 147.3L827.9 146.6L829.5 145.9L831.1 145.2L832.7 144.7L834.4 144.2L836.0 143.8L837.6 143.4L839.3 143.2L840.9 143.0M836.6 265.2L835.6 265.1L834.5 264.9L833.5 264.6L832.4 264.3L831.4 263.9L830.4 263.4L829.4 262.8L828.4 262.2L827.4 261.4L826.5 260.7L825.5 259.8L824.6 258.9L823.7 257.9L822.9 256.8L822.0 255.7L821.2 254.6L820.4 253.3L819.6 252.0L818.8 250.6L818.1 249.2L817.4 247.8L816.7 246.2L816.1 244.7L815.4 243.0L814.9 241.4L814.3 239.6L813.8 237.9L813.3 236.1L812.9 234.2L812.4 232.4L812.1 230.4L811.7 228.5L811.4 226.5L811.1 224.5L810.9 222.5L810.7 220.4L810.5 218.4L810.4 216.3L810.3 214.2L810.2 212.1L810.2 209.9L810.2 207.8L810.3 205.7L810.4 203.5L810.5 201.4L810.7 199.2L810.9 197.1L811.1 195.0L811.4 192.9L811.7 190.8L812.1 188.7L812.4 186.6L812.9 184.6L813.3 182.6L813.8 180.6L814.3 178.6L814.9 176.7L815.4 174.8L816.1 172.9L816.7 171.1L817.4 169.3L818.1 167.6L818.8 165.9L819.6 164.2L820.4 162.6L821.2 161.1L822.0 159.6L822.9 158.1L823.7 156.7L824.6 155.4L825.5 154.1L826.5 152.9L827.4 151.8L828.4 150.7L829.4 149.6L830.4 148.7L831.4 147.8L832.4 147.0L833.5 146.2L834.5 145.5L835.6 144.9L836.6 144.4L837.7 143.9L838.8 143.5L839.8 143.2L840.9 143.0M839.4 265.4L839.0 265.3L838.7 265.1L838.3 264.8L838.0 264.5L837.6 264.1L837.3 263.6L836.9 263.1L836.6 262.5L836.2 261.8L835.9 261.0L835.6 260.2L835.3 259.3L834.9 258.4L834.6 257.3L834.3 256.2L834.0 255.1L833.8 253.9L833.5 252.6L833.2 251.2L833.0 249.8L832.7 248.4L832.5 246.9L832.3 245.3L832.1 243.7L831.9 242.1L831.7 240.3L831.5 238.6L831.3 236.8L831.2 235.0L831.0 233.1L830.9 231.2L830.8 229.3L830.7 227.3L830.6 225.3L830.5 223.3L830.4 221.2L830.3 219.2L830.3 217.1L830.3 215.0L830.2 212.9L830.2 210.7L830.2 208.6L830.3 206.5L830.3 204.3L830.3 202.2L830.4 200.0L830.5 197.9L830.6 195.8L830.7 193.7L830.8 191.6L830.9 189.5L831.0 187.4L831.2 185.3L831.3 183.3L831.5 181.3L831.7 179.3L831.9 177.4L832.1 175.5L832.3 173.6L832.5 171.7L832.7 169.9L833.0 168.2L833.2 166.5L833.5 164.8L833.8 163.2L834.0 161.6L834.3 160.1L834.6 158.6L834.9 157.2L835.3 155.8L835.6 154.5L835.9 153.3L836.2 152.1L836.6 151.0L836.9 150.0L837.3 149.0L837.6 148.1L838.0 147.2L838.3 146.4L838.7 145.7L839.0 145.1L839.4 144.5L839.8 144.0L840.2 143.6L840.5 143.3L840.9 143.0M842.4 265.4L842.8 265.3L843.1 265.1L843.5 264.8L843.8 264.5L844.2 264.1L844.5 263.6L844.9 263.1L845.2 262.5L845.6 261.8L845.9 261.0L846.2 260.2L846.5 259.3L846.9 258.4L847.2 257.3L847.5 256.2L847.8 255.1L848.0 253.9L848.3 252.6L848.6 251.2L848.8 249.8L849.1 248.4L849.3 246.9L849.5 245.3L849.7 243.7L849.9 242.1L850.1 240.3L850.3 238.6L850.5 236.8L850.6 235.0L850.8 233.1L850.9 231.2L851.0 229.3L851.1 227.3L851.2 225.3L851.3 223.3L851.4 221.2L851.5 219.2L851.5 217.1L851.5 215.0L851.6 212.9L851.6 210.7L851.6 208.6L851.5 206.5L851.5 204.3L851.5 202.2L851.4 200.0L851.3 197.9L851.2 195.8L851.1 193.7L851.0 191.6L850.9 189.5L850.8 187.4L850.6 185.3L850.5 183.3L850.3 181.3L850.1 179.3L849.9 177.4L849.7 175.5L849.5 173.6L849.3 171.7L849.1 169.9L848.8 168.2L848.6 166.5L848.3 164.8L848.0 163.2L847.8 161.6L847.5 160.1L847.2 158.6L846.9 157.2L846.5 155.8L846.2 154.5L845.9 153.3L845.6 152.1L845.2 151.0L844.9 150.0L844.5 149.0L844.2 148.1L843.8 147.2L843.5 146.4L843.1 145.7L842.8 145.1L842.4 144.5L842.0 144.0L841.6 143.6L841.3 143.3L840.9 143.0M845.2 265.2L846.2 265.1L847.3 264.9L848.3 264.6L849.4 264.3L850.4 263.9L851.4 263.4L852.4 262.8L853.4 262.2L854.4 261.4L855.3 260.7L856.2 259.8L857.2 258.9L858.1 257.9L858.9 256.8L859.8 255.7L860.6 254.6L861.4 253.3L862.2 252.0L863.0 250.6L863.7 249.2L864.4 247.8L865.1 246.2L865.7 244.7L866.4 243.0L866.9 241.4L867.5 239.6L868.0 237.9L868.5 236.1L868.9 234.2L869.4 232.4L869.7 230.4L870.1 228.5L870.4 226.5L870.7 224.5L870.9 222.5L871.1 220.4L871.3 218.4L871.4 216.3L871.5 214.2L871.6 212.1L871.6 209.9L871.6 207.8L871.5 205.7L871.4 203.5L871.3 201.4L871.1 199.2L870.9 197.1L870.7 195.0L870.4 192.9L870.1 190.8L869.7 188.7L869.4 186.6L868.9 184.6L868.5 182.6L868.0 180.6L867.5 178.6L866.9 176.7L866.4 174.8L865.7 172.9L865.1 171.1L864.4 169.3L863.7 167.6L863.0 165.9L862.2 164.2L861.4 162.6L860.6 161.1L859.8 159.6L858.9 158.1L858.1 156.7L857.2 155.4L856.2 154.1L855.3 152.9L854.4 151.8L853.4 150.7L852.4 149.6L851.4 148.7L850.4 147.8L849.4 147.0L848.3 146.2L847.3 145.5L846.2 144.9L845.2 144.4L844.1 143.9L843.0 143.5L842.0 143.2L840.9 143.0M849.1 264.9L850.7 264.6L852.3 264.3L853.9 263.9L855.4 263.4L857.0 262.8L858.5 262.2L860.0 261.5L861.5 260.8L863.0 259.9L864.4 259.0L865.8 258.1L867.2 257.0L868.5 255.9L869.9 254.8L871.1 253.6L872.4 252.3L873.6 250.9L874.7 249.6L875.9 248.1L876.9 246.6L878.0 245.0L879.0 243.4L879.9 241.8L880.8 240.1L881.6 238.3L882.4 236.5L883.2 234.7L883.9 232.8L884.5 230.9L885.1 229.0L885.6 227.0L886.1 225.0L886.5 223.0L886.9 221.0L887.2 218.9L887.5 216.8L887.7 214.8L887.8 212.6L887.9 210.5L887.9 208.4L887.9 206.3L887.8 204.1L887.7 202.0L887.5 199.9L887.2 197.7L886.9 195.6L886.5 193.5L886.1 191.4L885.6 189.3L885.1 187.3L884.5 185.2L883.9 183.2L883.2 181.2L882.4 179.2L881.6 177.3L880.8 175.4L879.9 173.5L879.0 171.7L878.0 169.9L876.9 168.1L875.9 166.4L874.7 164.8L873.6 163.2L872.4 161.6L871.1 160.1L869.9 158.6L868.5 157.2L867.2 155.9L865.8 154.6L864.4 153.4L863.0 152.2L861.5 151.1L860.0 150.0L858.5 149.1L857.0 148.2L855.4 147.3L853.9 146.6L852.3 145.9L850.7 145.2L849.1 144.7L847.4 144.2L845.8 143.8L844.2 143.4L842.5 143.2L840.9 143.0M860.6 262.1L862.5 261.5L864.4 260.7L866.2 259.9L868.0 259.0L869.7 258.0L871.5 257.0L873.2 255.9L874.8 254.7L876.4 253.5L878.0 252.2L879.5 250.9L881.0 249.5L882.4 248.1L883.8 246.6L885.1 245.0L886.4 243.4L887.6 241.8L888.7 240.1L889.8 238.3L890.9 236.5L891.8 234.7L892.8 232.9L893.6 231.0L894.4 229.0L895.1 227.1L895.8 225.1L896.4 223.1L896.9 221.0L897.3 219.0L897.7 216.9L898.0 214.8L898.3 212.7L898.5 210.6L898.6 208.5L898.6 206.3L898.6 204.2L898.5 202.1L898.3 199.9L898.0 197.8L897.7 195.7L897.3 193.6L896.9 191.5L896.4 189.4L895.8 187.4L895.1 185.3L894.4 183.3L893.6 181.3L892.8 179.4L891.8 177.4L890.9 175.5L889.8 173.7L888.7 171.8L887.6 170.0L886.4 168.3L885.1 166.6L883.8 164.9L882.4 163.3L881.0 161.7L879.5 160.2L878.0 158.8L876.4 157.4L874.8 156.0L873.2 154.7L871.5 153.5L869.7 152.3L868.0 151.2L866.2 150.2L864.4 149.2L862.5 148.3L860.6 147.5L858.7 146.7L856.8 146.0L854.9 145.4L852.9 144.8L850.9 144.3L848.9 143.9L846.9 143.6L844.9 143.3L842.9 143.1L840.9 143.0" stroke="#505050" stroke-width="1.35" stroke-dasharray="1.35 2.05" fill="none"/>
<circle cx="840.9" cy="204" r="61.4" stroke="#404040" stroke-width="1.35" stroke-dasharray="1.35 2.05" fill="none"/>
<circle cx="779.8" cy="201.8" r="4.8" fill="#5c5c5c"/>
<path d="M1719.4 262.3L1719.6 262.3L1719.9 262.4L1720.2 262.5L1720.5 262.6L1720.8 262.6L1721.2 262.7L1721.6 262.8L1722.0 262.8L1722.4 262.9L1722.8 263.0L1723.3 263.0L1723.8 263.1L1724.3 263.2L1724.8 263.2L1725.3 263.3L1725.9 263.3L1726.5 263.4L1727.0 263.4L1727.6 263.5L1728.3 263.5L1728.9 263.6L1729.5 263.6L1730.2 263.6L1730.8 263.7L1731.5 263.7L1732.2 263.7L1732.9 263.8L1733.6 263.8L1734.3 263.8L1735.0 263.8L1735.7 263.8L1736.5 263.9L1737.2 263.9L1737.9 263.9L1738.7 263.9L1739.4 263.9L1740.1 263.9L1740.9 263.9L1741.6 263.9L1742.3 263.9L1743.1 263.8L1743.8 263.8L1744.5 263.8L1745.2 263.8L1745.9 263.8L1746.6 263.7L1747.3 263.7L1748.0 263.7L1748.6 263.6L1749.3 263.6L1749.9 263.6L1750.5 263.5L1751.2 263.5L1751.8 263.4L1752.3 263.4L1752.9 263.3L1753.5 263.3L1754.0 263.2L1754.5 263.2L1755.0 263.1L1755.5 263.0L1756.0 263.0L1756.4 262.9L1756.8 262.8L1757.2 262.8L1757.6 262.7L1758.0 262.6L1758.3 262.6L1758.6 262.5L1758.9 262.4L1759.2 262.3L1759.4 262.3M1700.3 251.5L1700.5 251.7L1700.7 251.8L1701.0 252.0L1701.4 252.1L1701.8 252.3L1702.3 252.4L1702.7 252.6L1703.3 252.7L1703.9 252.8L1704.5 253.0L1705.2 253.1L1705.9 253.3L1706.6 253.4L1707.4 253.5L1708.2 253.6L1709.1 253.8L1710.0 253.9L1711.0 254.0L1711.9 254.1L1712.9 254.2L1714.0 254.3L1715.1 254.4L1716.2 254.5L1717.3 254.6L1718.5 254.7L1719.6 254.7L1720.8 254.8L1722.1 254.9L1723.3 254.9L1724.6 255.0L1725.9 255.1L1727.2 255.1L1728.5 255.2L1729.8 255.2L1731.2 255.2L1732.5 255.3L1733.9 255.3L1735.3 255.3L1736.6 255.3L1738.0 255.3L1739.4 255.3L1740.8 255.3L1742.2 255.3L1743.5 255.3L1744.9 255.3L1746.3 255.3L1747.6 255.2L1749.0 255.2L1750.3 255.2L1751.6 255.1L1752.9 255.1L1754.2 255.0L1755.5 254.9L1756.7 254.9L1758.0 254.8L1759.2 254.7L1760.3 254.7L1761.5 254.6L1762.6 254.5L1763.7 254.4L1764.8 254.3L1765.9 254.2L1766.9 254.1L1767.8 254.0L1768.8 253.9L1769.7 253.8L1770.6 253.6L1771.4 253.5L1772.2 253.4L1772.9 253.3L1773.6 253.1L1774.3 253.0L1774.9 252.8L1775.5 252.7L1776.1 252.6L1776.5 252.4L1777.0 252.3L1777.4 252.1L1777.8 252.0L1778.1 251.8L1778.3 251.7L1778.5 251.5M1686.3 235.1L1686.4 235.3L1686.7 235.5L1686.9 235.7L1687.3 235.9L1687.7 236.1L1688.2 236.3L1688.7 236.5L1689.4 236.7L1690.0 236.9L1690.7 237.1L1691.5 237.3L1692.4 237.4L1693.3 237.6L1694.2 237.8L1695.2 238.0L1696.3 238.1L1697.4 238.3L1698.6 238.5L1699.8 238.6L1701.1 238.8L1702.4 238.9L1703.8 239.1L1705.2 239.2L1706.6 239.3L1708.1 239.5L1709.6 239.6L1711.2 239.7L1712.8 239.8L1714.4 239.9L1716.1 240.0L1717.7 240.1L1719.4 240.2L1721.2 240.2L1722.9 240.3L1724.7 240.4L1726.5 240.4L1728.3 240.5L1730.2 240.5L1732.0 240.5L1733.8 240.6L1735.7 240.6L1737.5 240.6L1739.4 240.6L1741.3 240.6L1743.1 240.6L1745.0 240.6L1746.8 240.5L1748.6 240.5L1750.5 240.5L1752.3 240.4L1754.1 240.4L1755.9 240.3L1757.6 240.2L1759.4 240.2L1761.1 240.1L1762.7 240.0L1764.4 239.9L1766.0 239.8L1767.6 239.7L1769.2 239.6L1770.7 239.5L1772.2 239.3L1773.6 239.2L1775.0 239.1L1776.4 238.9L1777.7 238.8L1779.0 238.6L1780.2 238.5L1781.4 238.3L1782.5 238.1L1783.6 238.0L1784.6 237.8L1785.5 237.6L1786.4 237.4L1787.3 237.3L1788.1 237.1L1788.8 236.9L1789.4 236.7L1790.1 236.5L1790.6 236.3L1791.1 236.1L1791.5 235.9L1791.9 235.7L1792.1 235.5L1792.4 235.3L1792.5 235.1M1678.9 214.9L1679.0 215.2L1679.2 215.4L1679.4 215.7L1679.8 215.9L1680.2 216.1L1680.6 216.3L1681.2 216.6L1681.8 216.8L1682.5 217.0L1683.2 217.2L1684.1 217.5L1685.0 217.7L1685.9 217.9L1686.9 218.1L1688.0 218.3L1689.2 218.5L1690.4 218.7L1691.7 218.9L1693.0 219.1L1694.4 219.2L1695.8 219.4L1697.3 219.6L1698.9 219.7L1700.5 219.9L1702.1 220.0L1703.8 220.2L1705.5 220.3L1707.3 220.4L1709.1 220.6L1711.0 220.7L1712.8 220.8L1714.8 220.9L1716.7 221.0L1718.7 221.1L1720.7 221.1L1722.7 221.2L1724.7 221.3L1726.8 221.3L1728.9 221.4L1731.0 221.4L1733.1 221.4L1735.2 221.4L1737.3 221.5L1739.4 221.5L1741.5 221.5L1743.6 221.4L1745.7 221.4L1747.8 221.4L1749.9 221.4L1752.0 221.3L1754.1 221.3L1756.1 221.2L1758.1 221.1L1760.1 221.1L1762.1 221.0L1764.0 220.9L1766.0 220.8L1767.8 220.7L1769.7 220.6L1771.5 220.4L1773.3 220.3L1775.0 220.2L1776.7 220.0L1778.3 219.9L1779.9 219.7L1781.5 219.6L1783.0 219.4L1784.4 219.2L1785.8 219.1L1787.1 218.9L1788.4 218.7L1789.6 218.5L1790.8 218.3L1791.9 218.1L1792.9 217.9L1793.8 217.7L1794.7 217.5L1795.6 217.2L1796.3 217.0L1797.0 216.8L1797.6 216.6L1798.2 216.3L1798.6 216.1L1799.0 215.9L1799.4 215.7L1799.6 215.4L1799.8 215.2L1799.9 214.9M1678.8 193.5L1678.9 193.7L1679.0 194.0L1679.2 194.2L1679.4 194.4L1679.8 194.7L1680.2 194.9L1680.6 195.1L1681.2 195.3L1681.8 195.6L1682.5 195.8L1683.2 196.0L1684.1 196.2L1685.0 196.4L1685.9 196.7L1686.9 196.9L1688.0 197.1L1689.2 197.3L1690.4 197.5L1691.7 197.6L1693.0 197.8L1694.4 198.0L1695.8 198.2L1697.3 198.3L1698.9 198.5L1700.5 198.7L1702.1 198.8L1703.8 198.9L1705.5 199.1L1707.3 199.2L1709.1 199.3L1711.0 199.4L1712.8 199.6L1714.8 199.7L1716.7 199.7L1718.7 199.8L1720.7 199.9L1722.7 200.0L1724.7 200.0L1726.8 200.1L1728.9 200.1L1731.0 200.2L1733.1 200.2L1735.2 200.2L1737.3 200.2L1739.4 200.2L1741.5 200.2L1743.6 200.2L1745.7 200.2L1747.8 200.2L1749.9 200.1L1752.0 200.1L1754.1 200.0L1756.1 200.0L1758.1 199.9L1760.1 199.8L1762.1 199.7L1764.0 199.7L1766.0 199.6L1767.8 199.4L1769.7 199.3L1771.5 199.2L1773.3 199.1L1775.0 198.9L1776.7 198.8L1778.3 198.7L1779.9 198.5L1781.5 198.3L1783.0 198.2L1784.4 198.0L1785.8 197.8L1787.1 197.6L1788.4 197.5L1789.6 197.3L1790.8 197.1L1791.9 196.9L1792.9 196.7L1793.8 196.4L1794.7 196.2L1795.6 196.0L1796.3 195.8L1797.0 195.6L1797.6 195.3L1798.2 195.1L1798.6 194.9L1799.0 194.7L1799.4 194.4L1799.6 194.2L1799.8 194.0L1799.9 193.7L1800.0 193.5M1686.2 173.3L1686.1 173.5L1686.2 173.7L1686.3 174.0L1686.4 174.2L1686.7 174.4L1686.9 174.6L1687.3 174.8L1687.7 175.0L1688.2 175.2L1688.7 175.4L1689.4 175.6L1690.0 175.8L1690.7 176.0L1691.5 176.1L1692.4 176.3L1693.3 176.5L1694.2 176.7L1695.2 176.9L1696.3 177.0L1697.4 177.2L1698.6 177.4L1699.8 177.5L1701.1 177.7L1702.4 177.8L1703.8 178.0L1705.2 178.1L1706.6 178.2L1708.1 178.3L1709.6 178.5L1711.2 178.6L1712.8 178.7L1714.4 178.8L1716.1 178.9L1717.7 179.0L1719.4 179.0L1721.2 179.1L1722.9 179.2L1724.7 179.2L1726.5 179.3L1728.3 179.3L1730.2 179.4L1732.0 179.4L1733.8 179.4L1735.7 179.5L1737.5 179.5L1739.4 179.5L1741.3 179.5L1743.1 179.5L1745.0 179.4L1746.8 179.4L1748.6 179.4L1750.5 179.3L1752.3 179.3L1754.1 179.2L1755.9 179.2L1757.6 179.1L1759.4 179.0L1761.1 179.0L1762.7 178.9L1764.4 178.8L1766.0 178.7L1767.6 178.6L1769.2 178.5L1770.7 178.3L1772.2 178.2L1773.6 178.1L1775.0 178.0L1776.4 177.8L1777.7 177.7L1779.0 177.5L1780.2 177.4L1781.4 177.2L1782.5 177.0L1783.6 176.9L1784.6 176.7L1785.5 176.5L1786.4 176.3L1787.3 176.1L1788.1 176.0L1788.8 175.8L1789.4 175.6L1790.1 175.4L1790.6 175.2L1791.1 175.0L1791.5 174.8L1791.9 174.6L1792.1 174.4L1792.4 174.2L1792.5 174.0L1792.6 173.7L1792.7 173.5L1792.6 173.3M1700.1 156.8L1700.0 157.0L1699.9 157.1L1699.9 157.3L1699.9 157.4L1700.0 157.6L1700.1 157.7L1700.3 157.9L1700.5 158.0L1700.7 158.2L1701.0 158.3L1701.4 158.5L1701.8 158.6L1702.3 158.8L1702.7 158.9L1703.3 159.1L1703.9 159.2L1704.5 159.4L1705.2 159.5L1705.9 159.6L1706.6 159.7L1707.4 159.9L1708.2 160.0L1709.1 160.1L1710.0 160.2L1711.0 160.3L1711.9 160.5L1712.9 160.6L1714.0 160.7L1715.1 160.8L1716.2 160.8L1717.3 160.9L1718.5 161.0L1719.6 161.1L1720.8 161.2L1722.1 161.2L1723.3 161.3L1724.6 161.4L1725.9 161.4L1727.2 161.5L1728.5 161.5L1729.8 161.6L1731.2 161.6L1732.5 161.6L1733.9 161.6L1735.3 161.7L1736.6 161.7L1738.0 161.7L1739.4 161.7L1740.8 161.7L1742.2 161.7L1743.5 161.7L1744.9 161.6L1746.3 161.6L1747.6 161.6L1749.0 161.6L1750.3 161.5L1751.6 161.5L1752.9 161.4L1754.2 161.4L1755.5 161.3L1756.7 161.2L1758.0 161.2L1759.2 161.1L1760.3 161.0L1761.5 160.9L1762.6 160.8L1763.7 160.8L1764.8 160.7L1765.9 160.6L1766.9 160.5L1767.8 160.3L1768.8 160.2L1769.7 160.1L1770.6 160.0L1771.4 159.9L1772.2 159.7L1772.9 159.6L1773.6 159.5L1774.3 159.4L1774.9 159.2L1775.5 159.1L1776.1 158.9L1776.5 158.8L1777.0 158.6L1777.4 158.5L1777.8 158.3L1778.1 158.2L1778.3 158.0L1778.5 157.9L1778.7 157.7L1778.8 157.6L1778.9 157.4L1778.9 157.3L1778.9 157.1L1778.8 157.0L1778.7 156.8M1719.2 146.0L1719.0 146.1L1718.8 146.2L1718.7 146.3L1718.6 146.3L1718.5 146.4L1718.4 146.5L1718.4 146.6L1718.4 146.7L1718.4 146.8L1718.4 146.8L1718.5 146.9L1718.6 147.0L1718.7 147.1L1718.8 147.2L1719.0 147.2L1719.2 147.3L1719.4 147.4L1719.6 147.5L1719.9 147.5L1720.2 147.6L1720.5 147.7L1720.8 147.8L1721.2 147.8L1721.6 147.9L1722.0 148.0L1722.4 148.0L1722.8 148.1L1723.3 148.2L1723.8 148.2L1724.3 148.3L1724.8 148.4L1725.3 148.4L1725.9 148.5L1726.5 148.5L1727.0 148.6L1727.6 148.6L1728.3 148.7L1728.9 148.7L1729.5 148.7L1730.2 148.8L1730.8 148.8L1731.5 148.8L1732.2 148.9L1732.9 148.9L1733.6 148.9L1734.3 148.9L1735.0 149.0L1735.7 149.0L1736.5 149.0L1737.2 149.0L1737.9 149.0L1738.7 149.0L1739.4 149.0L1740.1 149.0L1740.9 149.0L1741.6 149.0L1742.3 149.0L1743.1 149.0L1743.8 149.0L1744.5 148.9L1745.2 148.9L1745.9 148.9L1746.6 148.9L1747.3 148.8L1748.0 148.8L1748.6 148.8L1749.3 148.7L1749.9 148.7L1750.5 148.7L1751.2 148.6L1751.8 148.6L1752.3 148.5L1752.9 148.5L1753.5 148.4L1754.0 148.4L1754.5 148.3L1755.0 148.2L1755.5 148.2L1756.0 148.1L1756.4 148.0L1756.8 148.0L1757.2 147.9L1757.6 147.8L1758.0 147.8L1758.3 147.7L1758.6 147.6L1758.9 147.5L1759.2 147.5L1759.4 147.4L1759.6 147.3L1759.8 147.2L1760.0 147.2L1760.1 147.1L1760.2 147.0L1760.3 146.9L1760.4 146.8L1760.4 146.8L1760.4 146.7L1760.4 146.6L1760.4 146.5L1760.3 146.4L1760.2 146.3L1760.1 146.3L1760.0 146.2L1759.8 146.1L1759.6 146.0M1719.6 262.3L1717.8 261.6L1715.9 260.9L1714.1 260.1L1712.3 259.2L1710.5 258.2L1708.8 257.2L1707.1 256.1L1705.4 254.9L1703.8 253.7L1702.3 252.4L1700.7 251.1L1699.3 249.7L1697.8 248.2L1696.5 246.7L1695.1 245.2L1693.9 243.6L1692.6 241.9L1691.5 240.2L1690.4 238.5L1689.4 236.7L1688.4 234.9L1687.5 233.0L1686.6 231.1L1685.8 229.2L1685.1 227.2L1684.4 225.2L1683.8 223.2L1683.3 221.2L1682.9 219.1L1682.5 217.0L1682.2 214.9L1681.9 212.8L1681.7 210.7L1681.6 208.6L1681.6 206.4L1681.6 204.3L1681.7 202.2L1681.9 200.0L1682.2 197.9L1682.5 195.8L1682.9 193.7L1683.3 191.6L1683.8 189.5L1684.4 187.4L1685.1 185.4L1685.8 183.4L1686.6 181.4L1687.5 179.4L1688.4 177.5L1689.4 175.6L1690.4 173.7L1691.5 171.9L1692.6 170.1L1693.9 168.3L1695.1 166.6L1696.5 164.9L1697.8 163.3L1699.3 161.8L1700.7 160.3L1702.3 158.8L1703.8 157.4L1705.4 156.0L1707.1 154.7L1708.8 153.5L1710.5 152.3L1712.3 151.2L1714.1 150.2L1715.9 149.2L1717.8 148.3L1719.6 147.5L1721.5 146.7L1723.5 146.0L1725.4 145.4L1727.4 144.8L1729.4 144.3L1731.4 143.9L1733.4 143.6L1735.4 143.3L1737.4 143.1L1739.4 143.0M1731.2 265.1L1729.6 264.8L1728.0 264.5L1726.4 264.1L1724.8 263.6L1723.3 263.0L1721.8 262.4L1720.2 261.7L1718.7 261.0L1717.3 260.1L1715.8 259.2L1714.4 258.3L1713.1 257.2L1711.7 256.1L1710.4 255.0L1709.1 253.8L1707.9 252.5L1706.7 251.1L1705.5 249.7L1704.4 248.3L1703.3 246.8L1702.3 245.2L1701.3 243.6L1700.3 241.9L1699.4 240.2L1698.6 238.5L1697.8 236.7L1697.1 234.9L1696.4 233.0L1695.7 231.1L1695.1 229.1L1694.6 227.2L1694.1 225.2L1693.7 223.2L1693.3 221.1L1693.0 219.1L1692.7 217.0L1692.5 214.9L1692.4 212.8L1692.3 210.6L1692.3 208.5L1692.3 206.4L1692.4 204.2L1692.5 202.1L1692.7 200.0L1693.0 197.8L1693.3 195.7L1693.7 193.6L1694.1 191.5L1694.6 189.4L1695.1 187.3L1695.7 185.3L1696.4 183.3L1697.1 181.3L1697.8 179.3L1698.6 177.4L1699.4 175.5L1700.3 173.6L1701.3 171.7L1702.3 169.9L1703.3 168.2L1704.4 166.5L1705.5 164.8L1706.7 163.2L1707.9 161.6L1709.1 160.1L1710.4 158.7L1711.7 157.2L1713.1 155.9L1714.4 154.6L1715.8 153.4L1717.3 152.2L1718.7 151.1L1720.2 150.1L1721.8 149.1L1723.3 148.2L1724.8 147.3L1726.4 146.6L1728.0 145.9L1729.6 145.2L1731.2 144.7L1732.8 144.2L1734.5 143.8L1736.1 143.4L1737.8 143.2L1739.4 143.0M1735.1 265.4L1734.1 265.3L1733.0 265.1L1732.0 264.8L1730.9 264.5L1729.9 264.1L1728.9 263.6L1727.9 263.0L1726.9 262.3L1725.9 261.6L1725.0 260.9L1724.0 260.0L1723.1 259.1L1722.2 258.1L1721.3 257.0L1720.5 255.9L1719.6 254.7L1718.8 253.5L1718.0 252.2L1717.3 250.8L1716.5 249.4L1715.8 247.9L1715.2 246.4L1714.5 244.8L1713.9 243.2L1713.3 241.5L1712.8 239.8L1712.2 238.0L1711.8 236.2L1711.3 234.4L1710.9 232.5L1710.5 230.6L1710.2 228.6L1709.8 226.7L1709.6 224.6L1709.3 222.6L1709.1 220.6L1708.9 218.5L1708.8 216.4L1708.7 214.3L1708.7 212.2L1708.7 210.0L1708.7 207.9L1708.7 205.8L1708.8 203.6L1708.9 201.5L1709.1 199.3L1709.3 197.2L1709.6 195.1L1709.8 193.0L1710.2 190.9L1710.5 188.8L1710.9 186.7L1711.3 184.7L1711.8 182.6L1712.2 180.6L1712.8 178.7L1713.3 176.7L1713.9 174.8L1714.5 173.0L1715.2 171.2L1715.8 169.4L1716.5 167.6L1717.3 165.9L1718.0 164.3L1718.8 162.7L1719.6 161.1L1720.5 159.6L1721.3 158.1L1722.2 156.8L1723.1 155.4L1724.0 154.1L1725.0 152.9L1725.9 151.8L1726.9 150.7L1727.9 149.7L1728.9 148.7L1729.9 147.8L1730.9 147.0L1732.0 146.2L1733.0 145.6L1734.1 144.9L1735.1 144.4L1736.2 143.9L1737.3 143.5L1738.3 143.2L1739.4 143.0M1737.9 265.6L1737.5 265.5L1737.2 265.3L1736.8 265.0L1736.5 264.7L1736.1 264.3L1735.7 263.8L1735.4 263.3L1735.1 262.7L1734.7 262.0L1734.4 261.2L1734.1 260.4L1733.7 259.5L1733.4 258.5L1733.1 257.5L1732.8 256.4L1732.5 255.3L1732.3 254.0L1732.0 252.8L1731.7 251.4L1731.5 250.0L1731.2 248.6L1731.0 247.0L1730.8 245.5L1730.5 243.9L1730.3 242.2L1730.2 240.5L1730.0 238.8L1729.8 237.0L1729.6 235.1L1729.5 233.3L1729.4 231.3L1729.2 229.4L1729.1 227.4L1729.0 225.4L1729.0 223.4L1728.9 221.4L1728.8 219.3L1728.8 217.2L1728.7 215.1L1728.7 213.0L1728.7 210.9L1728.7 208.7L1728.7 206.6L1728.8 204.4L1728.8 202.3L1728.9 200.1L1729.0 198.0L1729.0 195.9L1729.1 193.7L1729.2 191.6L1729.4 189.5L1729.5 187.5L1729.6 185.4L1729.8 183.4L1730.0 181.4L1730.2 179.4L1730.3 177.4L1730.5 175.5L1730.8 173.6L1731.0 171.8L1731.2 170.0L1731.5 168.2L1731.7 166.5L1732.0 164.8L1732.3 163.2L1732.5 161.6L1732.8 160.1L1733.1 158.6L1733.4 157.2L1733.7 155.8L1734.1 154.5L1734.4 153.3L1734.7 152.1L1735.1 151.0L1735.4 150.0L1735.7 149.0L1736.1 148.1L1736.5 147.2L1736.8 146.4L1737.2 145.7L1737.5 145.1L1737.9 144.5L1738.3 144.0L1738.7 143.6L1739.0 143.3L1739.4 143.0M1740.9 265.6L1741.3 265.5L1741.6 265.3L1742.0 265.0L1742.3 264.7L1742.7 264.3L1743.1 263.8L1743.4 263.3L1743.7 262.7L1744.1 262.0L1744.4 261.2L1744.7 260.4L1745.1 259.5L1745.4 258.5L1745.7 257.5L1746.0 256.4L1746.3 255.3L1746.5 254.0L1746.8 252.8L1747.1 251.4L1747.3 250.0L1747.6 248.6L1747.8 247.0L1748.0 245.5L1748.3 243.9L1748.5 242.2L1748.6 240.5L1748.8 238.8L1749.0 237.0L1749.2 235.1L1749.3 233.3L1749.4 231.3L1749.6 229.4L1749.7 227.4L1749.8 225.4L1749.8 223.4L1749.9 221.4L1750.0 219.3L1750.0 217.2L1750.1 215.1L1750.1 213.0L1750.1 210.9L1750.1 208.7L1750.1 206.6L1750.0 204.4L1750.0 202.3L1749.9 200.1L1749.8 198.0L1749.8 195.9L1749.7 193.7L1749.6 191.6L1749.4 189.5L1749.3 187.5L1749.2 185.4L1749.0 183.4L1748.8 181.4L1748.6 179.4L1748.5 177.4L1748.3 175.5L1748.0 173.6L1747.8 171.8L1747.6 170.0L1747.3 168.2L1747.1 166.5L1746.8 164.8L1746.5 163.2L1746.3 161.6L1746.0 160.1L1745.7 158.6L1745.4 157.2L1745.1 155.8L1744.7 154.5L1744.4 153.3L1744.1 152.1L1743.7 151.0L1743.4 150.0L1743.1 149.0L1742.7 148.1L1742.3 147.2L1742.0 146.4L1741.6 145.7L1741.3 145.1L1740.9 144.5L1740.5 144.0L1740.1 143.6L1739.8 143.3L1739.4 143.0M1743.7 265.4L1744.7 265.3L1745.8 265.1L1746.8 264.8L1747.9 264.5L1748.9 264.1L1749.9 263.6L1750.9 263.0L1751.9 262.3L1752.9 261.6L1753.8 260.9L1754.8 260.0L1755.7 259.1L1756.6 258.1L1757.5 257.0L1758.3 255.9L1759.2 254.7L1760.0 253.5L1760.8 252.2L1761.5 250.8L1762.3 249.4L1763.0 247.9L1763.6 246.4L1764.3 244.8L1764.9 243.2L1765.5 241.5L1766.0 239.8L1766.6 238.0L1767.0 236.2L1767.5 234.4L1767.9 232.5L1768.3 230.6L1768.6 228.6L1769.0 226.7L1769.2 224.6L1769.5 222.6L1769.7 220.6L1769.9 218.5L1770.0 216.4L1770.1 214.3L1770.1 212.2L1770.2 210.0L1770.1 207.9L1770.1 205.8L1770.0 203.6L1769.9 201.5L1769.7 199.3L1769.5 197.2L1769.2 195.1L1769.0 193.0L1768.6 190.9L1768.3 188.8L1767.9 186.7L1767.5 184.7L1767.0 182.6L1766.6 180.6L1766.0 178.7L1765.5 176.7L1764.9 174.8L1764.3 173.0L1763.6 171.2L1763.0 169.4L1762.3 167.6L1761.5 165.9L1760.8 164.3L1760.0 162.7L1759.2 161.1L1758.3 159.6L1757.5 158.1L1756.6 156.8L1755.7 155.4L1754.8 154.1L1753.8 152.9L1752.9 151.8L1751.9 150.7L1750.9 149.7L1749.9 148.7L1748.9 147.8L1747.9 147.0L1746.8 146.2L1745.8 145.6L1744.7 144.9L1743.7 144.4L1742.6 143.9L1741.5 143.5L1740.5 143.2L1739.4 143.0M1747.6 265.1L1749.2 264.8L1750.8 264.5L1752.4 264.1L1754.0 263.6L1755.5 263.0L1757.0 262.4L1758.6 261.7L1760.1 261.0L1761.5 260.1L1763.0 259.2L1764.4 258.3L1765.7 257.2L1767.1 256.1L1768.4 255.0L1769.7 253.8L1770.9 252.5L1772.1 251.1L1773.3 249.7L1774.4 248.3L1775.5 246.8L1776.5 245.2L1777.5 243.6L1778.5 241.9L1779.4 240.2L1780.2 238.5L1781.0 236.7L1781.7 234.9L1782.4 233.0L1783.1 231.1L1783.7 229.1L1784.2 227.2L1784.7 225.2L1785.1 223.2L1785.5 221.1L1785.8 219.1L1786.1 217.0L1786.3 214.9L1786.4 212.8L1786.5 210.6L1786.5 208.5L1786.5 206.4L1786.4 204.2L1786.3 202.1L1786.1 200.0L1785.8 197.8L1785.5 195.7L1785.1 193.6L1784.7 191.5L1784.2 189.4L1783.7 187.3L1783.1 185.3L1782.4 183.3L1781.7 181.3L1781.0 179.3L1780.2 177.4L1779.4 175.5L1778.5 173.6L1777.5 171.7L1776.5 169.9L1775.5 168.2L1774.4 166.5L1773.3 164.8L1772.1 163.2L1770.9 161.6L1769.7 160.1L1768.4 158.7L1767.1 157.2L1765.7 155.9L1764.4 154.6L1763.0 153.4L1761.5 152.2L1760.1 151.1L1758.6 150.1L1757.0 149.1L1755.5 148.2L1754.0 147.3L1752.4 146.6L1750.8 145.9L1749.2 145.2L1747.6 144.7L1746.0 144.2L1744.3 143.8L1742.7 143.4L1741.0 143.2L1739.4 143.0M1759.2 262.3L1761.0 261.6L1762.9 260.9L1764.7 260.1L1766.5 259.2L1768.3 258.2L1770.0 257.2L1771.7 256.1L1773.4 254.9L1775.0 253.7L1776.5 252.4L1778.1 251.1L1779.5 249.7L1781.0 248.2L1782.3 246.7L1783.7 245.2L1784.9 243.6L1786.2 241.9L1787.3 240.2L1788.4 238.5L1789.4 236.7L1790.4 234.9L1791.3 233.0L1792.2 231.1L1793.0 229.2L1793.7 227.2L1794.4 225.2L1795.0 223.2L1795.5 221.2L1795.9 219.1L1796.3 217.0L1796.6 214.9L1796.9 212.8L1797.1 210.7L1797.2 208.6L1797.2 206.4L1797.2 204.3L1797.1 202.2L1796.9 200.0L1796.6 197.9L1796.3 195.8L1795.9 193.7L1795.5 191.6L1795.0 189.5L1794.4 187.4L1793.7 185.4L1793.0 183.4L1792.2 181.4L1791.3 179.4L1790.4 177.5L1789.4 175.6L1788.4 173.7L1787.3 171.9L1786.2 170.1L1784.9 168.3L1783.7 166.6L1782.3 164.9L1781.0 163.3L1779.5 161.8L1778.1 160.3L1776.5 158.8L1775.0 157.4L1773.4 156.0L1771.7 154.7L1770.0 153.5L1768.3 152.3L1766.5 151.2L1764.7 150.2L1762.9 149.2L1761.0 148.3L1759.2 147.5L1757.3 146.7L1755.3 146.0L1753.4 145.4L1751.4 144.8L1749.4 144.3L1747.4 143.9L1745.4 143.6L1743.4 143.3L1741.4 143.1L1739.4 143.0" stroke="#505050" stroke-width="1.35" stroke-dasharray="1.35 2.05" fill="none"/>
<circle cx="1739.4" cy="204.1" r="61.5" stroke="#404040" stroke-width="1.35" stroke-dasharray="1.35 2.05" fill="none"/>
<circle cx="1699.8" cy="201.9" r="4.8" fill="#5c5c5c"/>
<path d="M1875.9 262.1L1876.2 262.1L1876.4 262.2L1876.7 262.3L1877.0 262.4L1877.4 262.4L1877.7 262.5L1878.1 262.6L1878.5 262.6L1878.9 262.7L1879.4 262.8L1879.8 262.8L1880.3 262.9L1880.8 263.0L1881.3 263.0L1881.8 263.1L1882.4 263.1L1883.0 263.2L1883.6 263.2L1884.2 263.3L1884.8 263.3L1885.4 263.4L1886.0 263.4L1886.7 263.4L1887.4 263.5L1888.0 263.5L1888.7 263.5L1889.4 263.6L1890.1 263.6L1890.8 263.6L1891.5 263.6L1892.3 263.6L1893.0 263.7L1893.7 263.7L1894.4 263.7L1895.2 263.7L1895.9 263.7L1896.6 263.7L1897.4 263.7L1898.1 263.7L1898.8 263.7L1899.5 263.6L1900.3 263.6L1901.0 263.6L1901.7 263.6L1902.4 263.6L1903.1 263.5L1903.8 263.5L1904.4 263.5L1905.1 263.4L1905.8 263.4L1906.4 263.4L1907.0 263.3L1907.6 263.3L1908.2 263.2L1908.8 263.2L1909.4 263.1L1910.0 263.1L1910.5 263.0L1911.0 263.0L1911.5 262.9L1912.0 262.8L1912.4 262.8L1912.9 262.7L1913.3 262.6L1913.7 262.6L1914.1 262.5L1914.4 262.4L1914.8 262.4L1915.1 262.3L1915.4 262.2L1915.6 262.1L1915.9 262.1M1856.8 251.4L1857.0 251.5L1857.3 251.7L1857.6 251.8L1858.0 252.0L1858.4 252.1L1858.8 252.2L1859.3 252.4L1859.8 252.5L1860.4 252.7L1861.1 252.8L1861.7 252.9L1862.4 253.1L1863.2 253.2L1864.0 253.3L1864.8 253.5L1865.7 253.6L1866.6 253.7L1867.5 253.8L1868.5 253.9L1869.5 254.0L1870.5 254.1L1871.6 254.2L1872.7 254.3L1873.8 254.4L1875.0 254.5L1876.2 254.6L1877.4 254.6L1878.6 254.7L1879.8 254.8L1881.1 254.8L1882.4 254.9L1883.7 254.9L1885.0 255.0L1886.4 255.0L1887.7 255.0L1889.0 255.1L1890.4 255.1L1891.8 255.1L1893.1 255.1L1894.5 255.1L1895.9 255.1L1897.3 255.1L1898.7 255.1L1900.0 255.1L1901.4 255.1L1902.8 255.1L1904.1 255.0L1905.4 255.0L1906.8 255.0L1908.1 254.9L1909.4 254.9L1910.7 254.8L1912.0 254.8L1913.2 254.7L1914.4 254.6L1915.6 254.6L1916.8 254.5L1918.0 254.4L1919.1 254.3L1920.2 254.2L1921.3 254.1L1922.3 254.0L1923.3 253.9L1924.3 253.8L1925.2 253.7L1926.1 253.6L1927.0 253.5L1927.8 253.3L1928.6 253.2L1929.4 253.1L1930.1 252.9L1930.7 252.8L1931.4 252.7L1932.0 252.5L1932.5 252.4L1933.0 252.2L1933.4 252.1L1933.8 252.0L1934.2 251.8L1934.5 251.7L1934.8 251.5L1935.0 251.4M1842.9 234.9L1843.0 235.1L1843.2 235.3L1843.5 235.5L1843.9 235.7L1844.3 235.9L1844.8 236.1L1845.3 236.3L1845.9 236.5L1846.6 236.7L1847.3 236.9L1848.1 237.1L1849.0 237.3L1849.9 237.5L1850.8 237.6L1851.8 237.8L1852.9 238.0L1854.0 238.2L1855.2 238.3L1856.4 238.5L1857.6 238.6L1859.0 238.8L1860.3 238.9L1861.7 239.0L1863.2 239.2L1864.6 239.3L1866.2 239.4L1867.7 239.5L1869.3 239.6L1870.9 239.7L1872.6 239.8L1874.3 239.9L1876.0 240.0L1877.7 240.1L1879.5 240.1L1881.2 240.2L1883.0 240.3L1884.8 240.3L1886.7 240.3L1888.5 240.4L1890.3 240.4L1892.2 240.4L1894.0 240.4L1895.9 240.4L1897.8 240.4L1899.6 240.4L1901.5 240.4L1903.3 240.4L1905.1 240.3L1907.0 240.3L1908.8 240.3L1910.6 240.2L1912.3 240.1L1914.1 240.1L1915.8 240.0L1917.5 239.9L1919.2 239.8L1920.9 239.7L1922.5 239.6L1924.1 239.5L1925.6 239.4L1927.2 239.3L1928.6 239.2L1930.1 239.0L1931.5 238.9L1932.8 238.8L1934.2 238.6L1935.4 238.5L1936.6 238.3L1937.8 238.2L1938.9 238.0L1940.0 237.8L1941.0 237.6L1942.0 237.5L1942.8 237.3L1943.7 237.1L1944.5 236.9L1945.2 236.7L1945.9 236.5L1946.5 236.3L1947.0 236.1L1947.5 235.9L1947.9 235.7L1948.3 235.5L1948.6 235.3L1948.8 235.1L1948.9 234.9M1835.5 214.8L1835.6 215.1L1835.8 215.3L1836.0 215.5L1836.4 215.8L1836.8 216.0L1837.2 216.2L1837.8 216.5L1838.4 216.7L1839.1 216.9L1839.8 217.1L1840.7 217.3L1841.6 217.6L1842.5 217.8L1843.5 218.0L1844.6 218.2L1845.8 218.4L1847.0 218.6L1848.3 218.7L1849.6 218.9L1851.0 219.1L1852.4 219.3L1853.9 219.4L1855.4 219.6L1857.0 219.8L1858.7 219.9L1860.4 220.0L1862.1 220.2L1863.9 220.3L1865.7 220.4L1867.5 220.5L1869.4 220.7L1871.3 220.8L1873.2 220.8L1875.2 220.9L1877.2 221.0L1879.2 221.1L1881.3 221.1L1883.3 221.2L1885.4 221.2L1887.5 221.3L1889.6 221.3L1891.7 221.3L1893.8 221.3L1895.9 221.3L1898.0 221.3L1900.1 221.3L1902.2 221.3L1904.3 221.3L1906.4 221.2L1908.5 221.2L1910.5 221.1L1912.6 221.1L1914.6 221.0L1916.6 220.9L1918.6 220.8L1920.5 220.8L1922.4 220.7L1924.3 220.5L1926.1 220.4L1927.9 220.3L1929.7 220.2L1931.4 220.0L1933.1 219.9L1934.8 219.8L1936.4 219.6L1937.9 219.4L1939.4 219.3L1940.8 219.1L1942.2 218.9L1943.5 218.7L1944.8 218.6L1946.0 218.4L1947.2 218.2L1948.3 218.0L1949.3 217.8L1950.2 217.6L1951.1 217.3L1952.0 217.1L1952.7 216.9L1953.4 216.7L1954.0 216.5L1954.6 216.2L1955.0 216.0L1955.4 215.8L1955.8 215.5L1956.0 215.3L1956.2 215.1L1956.3 214.8M1835.4 193.4L1835.5 193.6L1835.6 193.9L1835.8 194.1L1836.0 194.3L1836.4 194.6L1836.8 194.8L1837.2 195.0L1837.8 195.3L1838.4 195.5L1839.1 195.7L1839.8 195.9L1840.7 196.1L1841.6 196.4L1842.5 196.6L1843.5 196.8L1844.6 197.0L1845.8 197.2L1847.0 197.4L1848.3 197.6L1849.6 197.7L1851.0 197.9L1852.4 198.1L1853.9 198.3L1855.4 198.4L1857.0 198.6L1858.7 198.7L1860.4 198.9L1862.1 199.0L1863.9 199.1L1865.7 199.2L1867.5 199.4L1869.4 199.5L1871.3 199.6L1873.2 199.7L1875.2 199.7L1877.2 199.8L1879.2 199.9L1881.3 199.9L1883.3 200.0L1885.4 200.0L1887.5 200.1L1889.6 200.1L1891.7 200.1L1893.8 200.1L1895.9 200.1L1898.0 200.1L1900.1 200.1L1902.2 200.1L1904.3 200.1L1906.4 200.0L1908.5 200.0L1910.5 199.9L1912.6 199.9L1914.6 199.8L1916.6 199.7L1918.6 199.7L1920.5 199.6L1922.4 199.5L1924.3 199.4L1926.1 199.2L1927.9 199.1L1929.7 199.0L1931.4 198.9L1933.1 198.7L1934.8 198.6L1936.4 198.4L1937.9 198.3L1939.4 198.1L1940.8 197.9L1942.2 197.7L1943.5 197.6L1944.8 197.4L1946.0 197.2L1947.2 197.0L1948.3 196.8L1949.3 196.6L1950.2 196.4L1951.1 196.1L1952.0 195.9L1952.7 195.7L1953.4 195.5L1954.0 195.3L1954.6 195.0L1955.0 194.8L1955.4 194.6L1955.8 194.3L1956.0 194.1L1956.2 193.9L1956.3 193.6L1956.4 193.4M1842.8 173.3L1842.7 173.5L1842.8 173.7L1842.9 173.9L1843.0 174.1L1843.2 174.3L1843.5 174.5L1843.9 174.7L1844.3 174.9L1844.8 175.1L1845.3 175.3L1845.9 175.5L1846.6 175.7L1847.3 175.9L1848.1 176.1L1849.0 176.3L1849.9 176.5L1850.8 176.6L1851.8 176.8L1852.9 177.0L1854.0 177.1L1855.2 177.3L1856.4 177.5L1857.6 177.6L1859.0 177.8L1860.3 177.9L1861.7 178.0L1863.2 178.2L1864.6 178.3L1866.2 178.4L1867.7 178.5L1869.3 178.6L1870.9 178.7L1872.6 178.8L1874.3 178.9L1876.0 179.0L1877.7 179.1L1879.5 179.1L1881.2 179.2L1883.0 179.2L1884.8 179.3L1886.7 179.3L1888.5 179.4L1890.3 179.4L1892.2 179.4L1894.0 179.4L1895.9 179.4L1897.8 179.4L1899.6 179.4L1901.5 179.4L1903.3 179.4L1905.1 179.3L1907.0 179.3L1908.8 179.2L1910.6 179.2L1912.3 179.1L1914.1 179.1L1915.8 179.0L1917.5 178.9L1919.2 178.8L1920.9 178.7L1922.5 178.6L1924.1 178.5L1925.6 178.4L1927.2 178.3L1928.6 178.2L1930.1 178.0L1931.5 177.9L1932.8 177.8L1934.2 177.6L1935.4 177.5L1936.6 177.3L1937.8 177.1L1938.9 177.0L1940.0 176.8L1941.0 176.6L1942.0 176.5L1942.8 176.3L1943.7 176.1L1944.5 175.9L1945.2 175.7L1945.9 175.5L1946.5 175.3L1947.0 175.1L1947.5 174.9L1947.9 174.7L1948.3 174.5L1948.6 174.3L1948.8 174.1L1948.9 173.9L1949.0 173.7L1949.1 173.5L1949.0 173.3M1856.6 156.8L1856.5 157.0L1856.5 157.1L1856.4 157.3L1856.5 157.4L1856.5 157.6L1856.6 157.7L1856.8 157.9L1857.0 158.0L1857.3 158.2L1857.6 158.3L1858.0 158.5L1858.4 158.6L1858.8 158.8L1859.3 158.9L1859.8 159.0L1860.4 159.2L1861.1 159.3L1861.7 159.5L1862.4 159.6L1863.2 159.7L1864.0 159.8L1864.8 160.0L1865.7 160.1L1866.6 160.2L1867.5 160.3L1868.5 160.4L1869.5 160.5L1870.5 160.6L1871.6 160.7L1872.7 160.8L1873.8 160.9L1875.0 161.0L1876.2 161.1L1877.4 161.1L1878.6 161.2L1879.8 161.3L1881.1 161.3L1882.4 161.4L1883.7 161.4L1885.0 161.5L1886.4 161.5L1887.7 161.6L1889.0 161.6L1890.4 161.6L1891.8 161.6L1893.1 161.6L1894.5 161.7L1895.9 161.7L1897.3 161.7L1898.7 161.6L1900.0 161.6L1901.4 161.6L1902.8 161.6L1904.1 161.6L1905.4 161.5L1906.8 161.5L1908.1 161.4L1909.4 161.4L1910.7 161.3L1912.0 161.3L1913.2 161.2L1914.4 161.1L1915.6 161.1L1916.8 161.0L1918.0 160.9L1919.1 160.8L1920.2 160.7L1921.3 160.6L1922.3 160.5L1923.3 160.4L1924.3 160.3L1925.2 160.2L1926.1 160.1L1927.0 160.0L1927.8 159.8L1928.6 159.7L1929.4 159.6L1930.1 159.5L1930.7 159.3L1931.4 159.2L1932.0 159.0L1932.5 158.9L1933.0 158.8L1933.4 158.6L1933.8 158.5L1934.2 158.3L1934.5 158.2L1934.8 158.0L1935.0 157.9L1935.2 157.7L1935.3 157.6L1935.3 157.4L1935.4 157.3L1935.3 157.1L1935.3 157.0L1935.2 156.8M1875.7 146.0L1875.5 146.1L1875.4 146.2L1875.2 146.3L1875.1 146.3L1875.0 146.4L1875.0 146.5L1874.9 146.6L1874.9 146.7L1874.9 146.7L1875.0 146.8L1875.0 146.9L1875.1 147.0L1875.2 147.1L1875.4 147.1L1875.5 147.2L1875.7 147.3L1875.9 147.4L1876.2 147.5L1876.4 147.5L1876.7 147.6L1877.0 147.7L1877.4 147.8L1877.7 147.8L1878.1 147.9L1878.5 148.0L1878.9 148.0L1879.4 148.1L1879.8 148.2L1880.3 148.2L1880.8 148.3L1881.3 148.3L1881.8 148.4L1882.4 148.5L1883.0 148.5L1883.6 148.6L1884.2 148.6L1884.8 148.6L1885.4 148.7L1886.0 148.7L1886.7 148.8L1887.4 148.8L1888.0 148.8L1888.7 148.9L1889.4 148.9L1890.1 148.9L1890.8 148.9L1891.5 149.0L1892.3 149.0L1893.0 149.0L1893.7 149.0L1894.4 149.0L1895.2 149.0L1895.9 149.0L1896.6 149.0L1897.4 149.0L1898.1 149.0L1898.8 149.0L1899.5 149.0L1900.3 149.0L1901.0 148.9L1901.7 148.9L1902.4 148.9L1903.1 148.9L1903.8 148.8L1904.4 148.8L1905.1 148.8L1905.8 148.7L1906.4 148.7L1907.0 148.6L1907.6 148.6L1908.2 148.6L1908.8 148.5L1909.4 148.5L1910.0 148.4L1910.5 148.3L1911.0 148.3L1911.5 148.2L1912.0 148.2L1912.4 148.1L1912.9 148.0L1913.3 148.0L1913.7 147.9L1914.1 147.8L1914.4 147.8L1914.8 147.7L1915.1 147.6L1915.4 147.5L1915.6 147.5L1915.9 147.4L1916.1 147.3L1916.3 147.2L1916.4 147.1L1916.6 147.1L1916.7 147.0L1916.8 146.9L1916.8 146.8L1916.9 146.7L1916.9 146.7L1916.9 146.6L1916.8 146.5L1916.8 146.4L1916.7 146.3L1916.6 146.3L1916.4 146.2L1916.3 146.1L1916.1 146.0M1876.2 262.1L1874.3 261.5L1872.4 260.7L1870.6 259.9L1868.8 259.0L1867.1 258.0L1865.3 257.0L1863.6 255.9L1862.0 254.7L1860.4 253.5L1858.8 252.2L1857.3 250.9L1855.8 249.5L1854.4 248.1L1853.0 246.6L1851.7 245.0L1850.4 243.4L1849.2 241.8L1848.1 240.1L1847.0 238.3L1845.9 236.5L1845.0 234.7L1844.0 232.9L1843.2 231.0L1842.4 229.0L1841.7 227.1L1841.0 225.1L1840.4 223.1L1839.9 221.0L1839.5 219.0L1839.1 216.9L1838.8 214.8L1838.5 212.7L1838.3 210.6L1838.2 208.5L1838.2 206.3L1838.2 204.2L1838.3 202.1L1838.5 199.9L1838.8 197.8L1839.1 195.7L1839.5 193.6L1839.9 191.5L1840.4 189.4L1841.0 187.4L1841.7 185.3L1842.4 183.3L1843.2 181.3L1844.0 179.4L1845.0 177.4L1845.9 175.5L1847.0 173.7L1848.1 171.8L1849.2 170.0L1850.4 168.3L1851.7 166.6L1853.0 164.9L1854.4 163.3L1855.8 161.7L1857.3 160.2L1858.8 158.8L1860.4 157.4L1862.0 156.0L1863.6 154.7L1865.3 153.5L1867.1 152.3L1868.8 151.2L1870.6 150.2L1872.4 149.2L1874.3 148.3L1876.2 147.5L1878.1 146.7L1880.0 146.0L1881.9 145.4L1883.9 144.8L1885.9 144.3L1887.9 143.9L1889.9 143.6L1891.9 143.3L1893.9 143.1L1895.9 143.0M1887.7 264.9L1886.1 264.6L1884.5 264.3L1882.9 263.9L1881.4 263.4L1879.8 262.8L1878.3 262.2L1876.8 261.5L1875.3 260.8L1873.8 259.9L1872.4 259.0L1871.0 258.1L1869.6 257.0L1868.3 255.9L1866.9 254.8L1865.7 253.6L1864.4 252.3L1863.2 250.9L1862.1 249.6L1860.9 248.1L1859.9 246.6L1858.8 245.0L1857.8 243.4L1856.9 241.8L1856.0 240.1L1855.2 238.3L1854.4 236.5L1853.6 234.7L1852.9 232.8L1852.3 230.9L1851.7 229.0L1851.2 227.0L1850.7 225.0L1850.3 223.0L1849.9 221.0L1849.6 218.9L1849.3 216.8L1849.1 214.8L1849.0 212.6L1848.9 210.5L1848.9 208.4L1848.9 206.3L1849.0 204.1L1849.1 202.0L1849.3 199.9L1849.6 197.7L1849.9 195.6L1850.3 193.5L1850.7 191.4L1851.2 189.3L1851.7 187.3L1852.3 185.2L1852.9 183.2L1853.6 181.2L1854.4 179.2L1855.2 177.3L1856.0 175.4L1856.9 173.5L1857.8 171.7L1858.8 169.9L1859.9 168.1L1860.9 166.4L1862.1 164.8L1863.2 163.2L1864.4 161.6L1865.7 160.1L1866.9 158.6L1868.3 157.2L1869.6 155.9L1871.0 154.6L1872.4 153.4L1873.8 152.2L1875.3 151.1L1876.8 150.0L1878.3 149.1L1879.8 148.2L1881.4 147.3L1882.9 146.6L1884.5 145.9L1886.1 145.2L1887.7 144.7L1889.4 144.2L1891.0 143.8L1892.6 143.4L1894.3 143.2L1895.9 143.0M1891.6 265.2L1890.6 265.1L1889.5 264.9L1888.5 264.6L1887.4 264.3L1886.4 263.9L1885.4 263.4L1884.4 262.8L1883.4 262.2L1882.4 261.4L1881.5 260.7L1880.6 259.8L1879.6 258.9L1878.7 257.9L1877.9 256.8L1877.0 255.7L1876.2 254.6L1875.4 253.3L1874.6 252.0L1873.8 250.6L1873.1 249.2L1872.4 247.8L1871.7 246.2L1871.1 244.7L1870.4 243.0L1869.9 241.4L1869.3 239.6L1868.8 237.9L1868.3 236.1L1867.9 234.2L1867.4 232.4L1867.1 230.4L1866.7 228.5L1866.4 226.5L1866.1 224.5L1865.9 222.5L1865.7 220.4L1865.5 218.4L1865.4 216.3L1865.3 214.2L1865.2 212.1L1865.2 209.9L1865.2 207.8L1865.3 205.7L1865.4 203.5L1865.5 201.4L1865.7 199.2L1865.9 197.1L1866.1 195.0L1866.4 192.9L1866.7 190.8L1867.1 188.7L1867.4 186.6L1867.9 184.6L1868.3 182.6L1868.8 180.6L1869.3 178.6L1869.9 176.7L1870.4 174.8L1871.1 172.9L1871.7 171.1L1872.4 169.3L1873.1 167.6L1873.8 165.9L1874.6 164.2L1875.4 162.6L1876.2 161.1L1877.0 159.6L1877.9 158.1L1878.7 156.7L1879.6 155.4L1880.6 154.1L1881.5 152.9L1882.4 151.8L1883.4 150.7L1884.4 149.6L1885.4 148.7L1886.4 147.8L1887.4 147.0L1888.5 146.2L1889.5 145.5L1890.6 144.9L1891.6 144.4L1892.7 143.9L1893.8 143.5L1894.8 143.2L1895.9 143.0M1894.4 265.4L1894.0 265.3L1893.7 265.1L1893.3 264.8L1893.0 264.5L1892.6 264.1L1892.3 263.6L1891.9 263.1L1891.6 262.5L1891.2 261.8L1890.9 261.0L1890.6 260.2L1890.3 259.3L1889.9 258.4L1889.6 257.3L1889.3 256.2L1889.0 255.1L1888.8 253.9L1888.5 252.6L1888.2 251.2L1888.0 249.8L1887.7 248.4L1887.5 246.9L1887.3 245.3L1887.1 243.7L1886.9 242.1L1886.7 240.3L1886.5 238.6L1886.3 236.8L1886.2 235.0L1886.0 233.1L1885.9 231.2L1885.8 229.3L1885.7 227.3L1885.6 225.3L1885.5 223.3L1885.4 221.2L1885.3 219.2L1885.3 217.1L1885.3 215.0L1885.2 212.9L1885.2 210.7L1885.2 208.6L1885.3 206.5L1885.3 204.3L1885.3 202.2L1885.4 200.0L1885.5 197.9L1885.6 195.8L1885.7 193.7L1885.8 191.6L1885.9 189.5L1886.0 187.4L1886.2 185.3L1886.3 183.3L1886.5 181.3L1886.7 179.3L1886.9 177.4L1887.1 175.5L1887.3 173.6L1887.5 171.7L1887.7 169.9L1888.0 168.2L1888.2 166.5L1888.5 164.8L1888.8 163.2L1889.0 161.6L1889.3 160.1L1889.6 158.6L1889.9 157.2L1890.3 155.8L1890.6 154.5L1890.9 153.3L1891.2 152.1L1891.6 151.0L1891.9 150.0L1892.3 149.0L1892.6 148.1L1893.0 147.2L1893.3 146.4L1893.7 145.7L1894.0 145.1L1894.4 144.5L1894.8 144.0L1895.2 143.6L1895.5 143.3L1895.9 143.0M1897.4 265.4L1897.8 265.3L1898.1 265.1L1898.5 264.8L1898.8 264.5L1899.2 264.1L1899.5 263.6L1899.9 263.1L1900.2 262.5L1900.6 261.8L1900.9 261.0L1901.2 260.2L1901.5 259.3L1901.9 258.4L1902.2 257.3L1902.5 256.2L1902.8 255.1L1903.0 253.9L1903.3 252.6L1903.6 251.2L1903.8 249.8L1904.1 248.4L1904.3 246.9L1904.5 245.3L1904.7 243.7L1904.9 242.1L1905.1 240.3L1905.3 238.6L1905.5 236.8L1905.6 235.0L1905.8 233.1L1905.9 231.2L1906.0 229.3L1906.1 227.3L1906.2 225.3L1906.3 223.3L1906.4 221.2L1906.5 219.2L1906.5 217.1L1906.5 215.0L1906.6 212.9L1906.6 210.7L1906.6 208.6L1906.5 206.5L1906.5 204.3L1906.5 202.2L1906.4 200.0L1906.3 197.9L1906.2 195.8L1906.1 193.7L1906.0 191.6L1905.9 189.5L1905.8 187.4L1905.6 185.3L1905.5 183.3L1905.3 181.3L1905.1 179.3L1904.9 177.4L1904.7 175.5L1904.5 173.6L1904.3 171.7L1904.1 169.9L1903.8 168.2L1903.6 166.5L1903.3 164.8L1903.0 163.2L1902.8 161.6L1902.5 160.1L1902.2 158.6L1901.9 157.2L1901.5 155.8L1901.2 154.5L1900.9 153.3L1900.6 152.1L1900.2 151.0L1899.9 150.0L1899.5 149.0L1899.2 148.1L1898.8 147.2L1898.5 146.4L1898.1 145.7L1897.8 145.1L1897.4 144.5L1897.0 144.0L1896.6 143.6L1896.3 143.3L1895.9 143.0M1900.2 265.2L1901.2 265.1L1902.3 264.9L1903.3 264.6L1904.4 264.3L1905.4 263.9L1906.4 263.4L1907.4 262.8L1908.4 262.2L1909.4 261.4L1910.3 260.7L1911.2 259.8L1912.2 258.9L1913.1 257.9L1913.9 256.8L1914.8 255.7L1915.6 254.6L1916.4 253.3L1917.2 252.0L1918.0 250.6L1918.7 249.2L1919.4 247.8L1920.1 246.2L1920.7 244.7L1921.4 243.0L1921.9 241.4L1922.5 239.6L1923.0 237.9L1923.5 236.1L1923.9 234.2L1924.4 232.4L1924.7 230.4L1925.1 228.5L1925.4 226.5L1925.7 224.5L1925.9 222.5L1926.1 220.4L1926.3 218.4L1926.4 216.3L1926.5 214.2L1926.6 212.1L1926.6 209.9L1926.6 207.8L1926.5 205.7L1926.4 203.5L1926.3 201.4L1926.1 199.2L1925.9 197.1L1925.7 195.0L1925.4 192.9L1925.1 190.8L1924.7 188.7L1924.4 186.6L1923.9 184.6L1923.5 182.6L1923.0 180.6L1922.5 178.6L1921.9 176.7L1921.4 174.8L1920.7 172.9L1920.1 171.1L1919.4 169.3L1918.7 167.6L1918.0 165.9L1917.2 164.2L1916.4 162.6L1915.6 161.1L1914.8 159.6L1913.9 158.1L1913.1 156.7L1912.2 155.4L1911.2 154.1L1910.3 152.9L1909.4 151.8L1908.4 150.7L1907.4 149.6L1906.4 148.7L1905.4 147.8L1904.4 147.0L1903.3 146.2L1902.3 145.5L1901.2 144.9L1900.2 144.4L1899.1 143.9L1898.0 143.5L1897.0 143.2L1895.9 143.0M1904.1 264.9L1905.7 264.6L1907.3 264.3L1908.9 263.9L1910.4 263.4L1912.0 262.8L1913.5 262.2L1915.0 261.5L1916.5 260.8L1918.0 259.9L1919.4 259.0L1920.8 258.1L1922.2 257.0L1923.5 255.9L1924.9 254.8L1926.1 253.6L1927.4 252.3L1928.6 250.9L1929.7 249.6L1930.9 248.1L1931.9 246.6L1933.0 245.0L1934.0 243.4L1934.9 241.8L1935.8 240.1L1936.6 238.3L1937.4 236.5L1938.2 234.7L1938.9 232.8L1939.5 230.9L1940.1 229.0L1940.6 227.0L1941.1 225.0L1941.5 223.0L1941.9 221.0L1942.2 218.9L1942.5 216.8L1942.7 214.8L1942.8 212.6L1942.9 210.5L1942.9 208.4L1942.9 206.3L1942.8 204.1L1942.7 202.0L1942.5 199.9L1942.2 197.7L1941.9 195.6L1941.5 193.5L1941.1 191.4L1940.6 189.3L1940.1 187.3L1939.5 185.2L1938.9 183.2L1938.2 181.2L1937.4 179.2L1936.6 177.3L1935.8 175.4L1934.9 173.5L1934.0 171.7L1933.0 169.9L1931.9 168.1L1930.9 166.4L1929.7 164.8L1928.6 163.2L1927.4 161.6L1926.1 160.1L1924.9 158.6L1923.5 157.2L1922.2 155.9L1920.8 154.6L1919.4 153.4L1918.0 152.2L1916.5 151.1L1915.0 150.0L1913.5 149.1L1912.0 148.2L1910.4 147.3L1908.9 146.6L1907.3 145.9L1905.7 145.2L1904.1 144.7L1902.4 144.2L1900.8 143.8L1899.2 143.4L1897.5 143.2L1895.9 143.0M1915.6 262.1L1917.5 261.5L1919.4 260.7L1921.2 259.9L1923.0 259.0L1924.7 258.0L1926.5 257.0L1928.2 255.9L1929.8 254.7L1931.4 253.5L1933.0 252.2L1934.5 250.9L1936.0 249.5L1937.4 248.1L1938.8 246.6L1940.1 245.0L1941.4 243.4L1942.6 241.8L1943.7 240.1L1944.8 238.3L1945.9 236.5L1946.8 234.7L1947.8 232.9L1948.6 231.0L1949.4 229.0L1950.1 227.1L1950.8 225.1L1951.4 223.1L1951.9 221.0L1952.3 219.0L1952.7 216.9L1953.0 214.8L1953.3 212.7L1953.5 210.6L1953.6 208.5L1953.6 206.3L1953.6 204.2L1953.5 202.1L1953.3 199.9L1953.0 197.8L1952.7 195.7L1952.3 193.6L1951.9 191.5L1951.4 189.4L1950.8 187.4L1950.1 185.3L1949.4 183.3L1948.6 181.3L1947.8 179.4L1946.8 177.4L1945.9 175.5L1944.8 173.7L1943.7 171.8L1942.6 170.0L1941.4 168.3L1940.1 166.6L1938.8 164.9L1937.4 163.3L1936.0 161.7L1934.5 160.2L1933.0 158.8L1931.4 157.4L1929.8 156.0L1928.2 154.7L1926.5 153.5L1924.7 152.3L1923.0 151.2L1921.2 150.2L1919.4 149.2L1917.5 148.3L1915.6 147.5L1913.7 146.7L1911.8 146.0L1909.9 145.4L1907.9 144.8L1905.9 144.3L1903.9 143.9L1901.9 143.6L1899.9 143.3L1897.9 143.1L1895.9 143.0" stroke="#505050" stroke-width="1.35" stroke-dasharray="1.35 2.05" fill="none"/>
<circle cx="1895.9" cy="204" r="61.4" stroke="#404040" stroke-width="1.35" stroke-dasharray="1.35 2.05" fill="none"/>
<circle cx="1837.6" cy="201.9" r="4.8" fill="#5c5c5c"/>
<text transform="translate(57.61 104.09)" font-size="30.55" class="">2.0</text>
<text transform="translate(57.83 260.09)" font-size="30.55" class="">1.5</text>
<text transform="translate(57.83 426.99)" font-size="30.55" class="">1.0</text>
<text transform="translate(57.64 593.99)" font-size="30.55" class="">0.5</text>
<text transform="translate(57.64 746.99)" font-size="30.55" class="">0.0</text>
<text transform="translate(94.16 799.09)" font-size="30.60" class="">10</text>
<text transform="translate(834.47 799.6)" font-size="30.45" class="">100</text>
<text transform="translate(441.65 844.8)" font-size="30.00" class="">Energy [keV]</text>
<text transform="translate(144.7 111)" font-size="24.2" fill="#000000">Δ<tspan dx="2" font-style="italic" font-size="23">μ</tspan></text>
<text transform="translate(176.16 111.2)" font-size="28.90" fill="#000000" class="">=0.1</text>
<text transform="translate(144.7 151.3)" font-size="24.2" fill="#0e3574">Δ<tspan dx="2" font-style="italic" font-size="23">μ</tspan></text>
<text transform="translate(176.16 151.5)" font-size="28.90" fill="#0e3574" class="">=0.5</text>
<text transform="translate(144.7 192)" font-size="24.2" fill="#156b25">Δ<tspan dx="2" font-style="italic" font-size="23">μ</tspan></text>
<text transform="translate(176.16 192.2)" font-size="28.90" fill="#156b25" class="">=1.0</text>
<text transform="translate(144.7 232.5)" font-size="24.2" fill="#a2004f">Δ<tspan dx="2" font-style="italic" font-size="23">μ</tspan></text>
<text transform="translate(176.16 232.7)" font-size="28.90" fill="#a2004f" class="">=4.0</text>
<text transform="translate(144.7 273.5)" font-size="24.2" fill="#641256">Δ<tspan dx="2" font-style="italic" font-size="23">μ</tspan></text>
<text transform="translate(176.16 273.7)" font-size="28.90" fill="#641256" class="">=100.0</text>
<text transform="translate(662.66 108.18)" font-size="22.25" class="">SC1</text>
<text transform="translate(818.96 108.18)" font-size="22.25" class="">SC2</text>
<text transform="translate(152.95 679.6)" font-size="31.05" class="gr">E<tspan font-size="18.63" dy="9.94">H</tspan><tspan dy="-9.94">=150 keV</tspan></text>
<text transform="translate(153.39 724.3)" font-size="30.60" class="gr"><tspan font-family="'Liberation Serif', serif" font-style="italic">τ</tspan>=0<tspan dx="-1" dy="-7.4" font-size="26">°</tspan></text>
<text transform="translate(24.1 680.49) rotate(-90)" font-size="29.83">HXR Directivity (SC 1 at 0<tspan dy="-7.3" font-size="24">°</tspan><tspan dy="7.3"> / SC 2 at 80</tspan><tspan dy="-7.3" font-size="24">°</tspan><tspan dy="7.3">)</tspan></text>
<text transform="translate(1112.62 104.09)" font-size="30.55" class="">2.0</text>
<text transform="translate(1112.83 260.09)" font-size="30.55" class="">1.5</text>
<text transform="translate(1112.83 426.99)" font-size="30.55" class="">1.0</text>
<text transform="translate(1112.64 593.99)" font-size="30.55" class="">0.5</text>
<text transform="translate(1112.64 746.99)" font-size="30.55" class="">0.0</text>
<text transform="translate(1149.16 799.09)" font-size="30.60" class="">10</text>
<text transform="translate(1889.47 799.6)" font-size="30.45" class="">100</text>
<text transform="translate(1496.65 844.8)" font-size="30.00" class="">Energy [keV]</text>
<text transform="translate(1199.7 111)" font-size="24.2" fill="#000000">Δ<tspan dx="2" font-style="italic" font-size="23">μ</tspan></text>
<text transform="translate(1231.15 111.2)" font-size="28.90" fill="#000000" class="">=0.1</text>
<text transform="translate(1199.7 151.3)" font-size="24.2" fill="#0e3574">Δ<tspan dx="2" font-style="italic" font-size="23">μ</tspan></text>
<text transform="translate(1231.15 151.5)" font-size="28.90" fill="#0e3574" class="">=0.5</text>
<text transform="translate(1199.7 192)" font-size="24.2" fill="#156b25">Δ<tspan dx="2" font-style="italic" font-size="23">μ</tspan></text>
<text transform="translate(1231.15 192.2)" font-size="28.90" fill="#156b25" class="">=1.0</text>
<text transform="translate(1199.7 232.5)" font-size="24.2" fill="#a2004f">Δ<tspan dx="2" font-style="italic" font-size="23">μ</tspan></text>
<text transform="translate(1231.15 232.7)" font-size="28.90" fill="#a2004f" class="">=4.0</text>
<text transform="translate(1199.7 273.5)" font-size="24.2" fill="#641256">Δ<tspan dx="2" font-style="italic" font-size="23">μ</tspan></text>
<text transform="translate(1231.15 273.7)" font-size="28.90" fill="#641256" class="">=100.0</text>
<text transform="translate(1717.66 108.18)" font-size="22.25" class="">SC1</text>
<text transform="translate(1873.96 108.18)" font-size="22.25" class="">SC2</text>
<text transform="translate(1207.95 679.6)" font-size="31.05" class="gr">E<tspan font-size="18.63" dy="9.94">H</tspan><tspan dy="-9.94">=150 keV</tspan></text>
<text transform="translate(1208.39 724.3)" font-size="30.60" class="gr"><tspan font-family="'Liberation Serif', serif" font-style="italic">τ</tspan>=0<tspan dx="-1" dy="-7.4" font-size="26">°</tspan></text>
<text transform="translate(1079.9 688.89) rotate(-90)" font-size="29.88">HXR Directivity (SC 1 at 40<tspan dy="-7.3" font-size="24">°</tspan><tspan dy="7.3"> / SC 2 at 70</tspan><tspan dy="-7.3" font-size="24">°</tspan><tspan dy="7.3">)</tspan></text>
<text transform="translate(714.02 26.8) scale(1 1.0300)" font-size="34.77" class="title">Dependence</text>
<text transform="translate(923.27 26.8) scale(1 0.9300)" font-size="35.64" class="title">on</text>
<text transform="translate(976.98 26.8)" font-size="36.46" class="title">Electron</text>
<text transform="translate(1125.12 26.8) scale(1 0.9700)" font-size="38.54" class="title">Directivity</text>
</svg>
</body></html>
